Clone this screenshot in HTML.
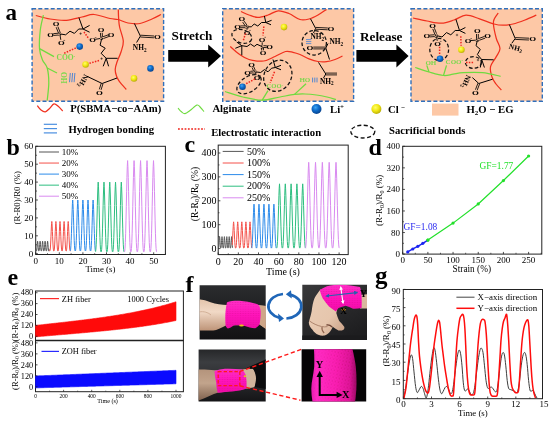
<!DOCTYPE html>
<html><head><meta charset="utf-8"><title>figure</title><style>
html,body{margin:0;padding:0;background:#fff}
svg{display:block}
text{font-family:"Liberation Serif",serif;white-space:pre}
</style></head><body>
<svg width="550" height="422" viewBox="0 0 550 422">
<rect width="550" height="422" fill="#fff"/>
<text x="5.60" y="19.80" font-size="23" font-weight="bold" fill="#000" text-anchor="start" >a</text>
<rect x="32.1" y="8.8" width="131.5" height="92.4" fill="#FDC8A6" stroke="#2F6FBC" stroke-width="1.4" stroke-dasharray="4,2.2"/>
<rect x="222.7" y="8.8" width="130.9" height="92.4" fill="#FDC8A6" stroke="#2F6FBC" stroke-width="1.4" stroke-dasharray="4,2.2"/>
<rect x="411" y="8.8" width="131.3" height="92.4" fill="#FDC8A6" stroke="#2F6FBC" stroke-width="1.4" stroke-dasharray="4,2.2"/>
<path d="M168.2,50 H208.2 V44.5 L221,56 L208.2,67.6 V61.8 H168.2Z" fill="#000"/>
<path d="M356.4,50 H396.4 V44.5 L408.6,56 L396.4,67.6 V61.8 H356.4Z" fill="#000"/>
<text x="171.60" y="40.40" font-size="13.2" font-weight="bold" fill="#000" text-anchor="start" >Stretch</text>
<text x="360.00" y="41.40" font-size="13.2" font-weight="bold" fill="#000" text-anchor="start" >Release</text>
<defs>
<radialGradient id="bl" cx="0.4" cy="0.35" r="0.7"><stop offset="0" stop-color="#3FA6F5"/><stop offset="0.45" stop-color="#0E6CCB"/><stop offset="1" stop-color="#073E86"/></radialGradient>
<radialGradient id="yl" cx="0.4" cy="0.35" r="0.7"><stop offset="0" stop-color="#FFFF6A"/><stop offset="0.5" stop-color="#F1E713"/><stop offset="1" stop-color="#B2A608"/></radialGradient>
</defs>
<path d="M35.80,15.50C38.17,16.08 44.90,18.20 50.00,19.00C55.10,19.80 61.07,20.63 66.40,20.30C71.73,19.97 77.40,17.97 82.00,17.00C86.60,16.03 89.33,14.25 94.00,14.50C98.67,14.75 106.00,17.67 110.00,18.50C114.00,19.33 115.00,18.75 118.00,19.50C121.00,20.25 124.33,22.33 128.00,23.00C131.67,23.67 136.00,24.17 140.00,23.50C144.00,22.83 148.50,20.50 152.00,19.00C155.50,17.50 159.50,15.25 161.00,14.50" stroke="#F0301E" stroke-width="1.25" fill="none" />
<path d="M118.30,9.50C118.35,10.92 118.38,15.08 118.60,18.00C118.82,20.92 118.82,23.13 119.60,27.00C120.38,30.87 123.07,37.03 123.30,41.20C123.53,45.37 122.05,48.53 121.00,52.00C119.95,55.47 117.97,59.10 117.00,62.00C116.03,64.90 115.28,67.07 115.20,69.40C115.12,71.73 115.82,74.00 116.50,76.00C117.18,78.00 117.67,79.15 119.30,81.40C120.93,83.65 125.13,88.15 126.30,89.50" stroke="#F0301E" stroke-width="1.25" fill="none" />
<path d="M43.40,15.20C42.88,17.67 40.95,24.43 40.30,30.00C39.65,35.57 39.13,43.60 39.50,48.60C39.87,53.60 41.22,56.77 42.50,60.00C43.78,63.23 46.15,64.22 47.20,68.00C48.25,71.78 48.80,77.28 48.80,82.70C48.80,88.12 47.47,97.53 47.20,100.50" stroke="#6FDB3F" stroke-width="1.25" fill="none" />
<line x1="39.50" y1="48.60" x2="54.00" y2="56.60" stroke="#6FDB3F" stroke-width="1.25" />
<line x1="47.20" y1="68.00" x2="57.00" y2="73.00" stroke="#6FDB3F" stroke-width="1.25" />
<text x="56.5" y="60.2" font-size="7.5" font-weight="bold" fill="#7AD84C" transform="rotate(0 56.5 60.2)">COO<tspan font-size="5.2" dy="-2.2">-</tspan></text>
<text x="61" y="72" font-size="7.5" font-weight="bold" fill="#7AD84C" transform="rotate(90 61 72)">OH</text>
<text x="59.80" y="36.10" font-size="6.4" font-weight="bold" fill="#000" text-anchor="middle" >S</text>
<line x1="60.05" y1="32.18" x2="57.86" y2="26.58" stroke="#000" stroke-width="0.85" />
<line x1="58.38" y1="32.84" x2="56.18" y2="27.24" stroke="#000" stroke-width="0.85" />
<text transform="translate(56.00,24.30) scale(1.16,0.88)" x="0" y="2.48" font-size="7.4" font-weight="bold" text-anchor="middle">O</text>
<line x1="58.13" y1="33.24" x2="53.31" y2="33.66" stroke="#000" stroke-width="0.85" />
<line x1="58.28" y1="35.04" x2="53.47" y2="35.45" stroke="#000" stroke-width="0.85" />
<text transform="translate(50.60,34.80) scale(1.16,0.88)" x="0" y="2.48" font-size="7.4" font-weight="bold" text-anchor="middle">O</text>
<line x1="60.07" y1="35.58" x2="60.82" y2="39.84" stroke="#000" stroke-width="0.9" />
<text transform="translate(61.30,42.60) scale(1.16,0.88)" x="0" y="2.48" font-size="7.4" font-weight="bold" text-anchor="middle">O</text>
<line x1="63.50" y1="40.40" x2="65.10" y2="40.40" stroke="#000" stroke-width="0.5" />
<path d="M60.60,34.00L65.60,34.80L70.00,31.20L74.40,33.40L78.70,29.00L83.00,29.00" stroke="#000" stroke-width="1.0" fill="none" stroke-linejoin="round"/>
<path d="M78.90,17.60L83.00,29.00" stroke="#000" stroke-width="1.0" fill="none" stroke-linejoin="round"/>
<path d="M83.00,29.00L89.60,25.40" stroke="#000" stroke-width="1.0" fill="none" stroke-linejoin="round"/>
<path d="M83.00,29.00L89.60,32.20" stroke="#000" stroke-width="1.0" fill="none" stroke-linejoin="round"/>
<line x1="79.40" y1="33.60" x2="81.80" y2="33.60" stroke="#000" stroke-width="0.5" />
<line x1="80.60" y1="32.40" x2="80.60" y2="34.80" stroke="#000" stroke-width="0.5" />
<line x1="84.00" y1="32.00" x2="89.00" y2="39.00" stroke="#F0231A" stroke-width="1.5" stroke-dasharray="1.5,1.3"/>
<text x="101.70" y="40.30" font-size="6.4" font-weight="bold" fill="#000" text-anchor="middle" >S</text>
<line x1="102.48" y1="36.54" x2="102.20" y2="32.73" stroke="#000" stroke-width="0.85" />
<line x1="100.69" y1="36.67" x2="100.41" y2="32.86" stroke="#000" stroke-width="0.85" />
<text transform="translate(101.10,30.00) scale(1.16,0.88)" x="0" y="2.48" font-size="7.4" font-weight="bold" text-anchor="middle">O</text>
<line x1="103.51" y1="38.49" x2="108.88" y2="36.51" stroke="#000" stroke-width="0.85" />
<line x1="102.89" y1="36.80" x2="108.26" y2="34.82" stroke="#000" stroke-width="0.85" />
<text transform="translate(111.20,34.70) scale(1.16,0.88)" x="0" y="2.48" font-size="7.4" font-weight="bold" text-anchor="middle">O</text>
<line x1="100.12" y1="38.48" x2="95.36" y2="39.32" stroke="#000" stroke-width="0.9" />
<text transform="translate(92.60,39.80) scale(1.16,0.88)" x="0" y="2.48" font-size="7.4" font-weight="bold" text-anchor="middle">O</text>
<line x1="94.80" y1="37.60" x2="96.40" y2="37.60" stroke="#000" stroke-width="0.5" />
<path d="M101.60,39.00L100.10,45.20L105.20,48.20L101.10,53.30L106.20,58.30" stroke="#000" stroke-width="1.0" fill="none" stroke-linejoin="round"/>
<path d="M106.20,58.30L117.60,58.30" stroke="#000" stroke-width="1.0" fill="none" stroke-linejoin="round"/>
<path d="M106.20,58.30L103.20,66.30" stroke="#000" stroke-width="1.0" fill="none" stroke-linejoin="round"/>
<path d="M106.20,58.30L108.60,66.30" stroke="#000" stroke-width="1.0" fill="none" stroke-linejoin="round"/>
<line x1="100.40" y1="58.60" x2="102.80" y2="58.60" stroke="#000" stroke-width="0.5" />
<line x1="101.60" y1="57.40" x2="101.60" y2="59.80" stroke="#000" stroke-width="0.5" />
<circle cx="79.7" cy="46.6" r="3.3" fill="url(#bl)"/>
<line x1="64.20" y1="53.20" x2="75.80" y2="48.00" stroke="#F0231A" stroke-width="1.5" stroke-dasharray="1.5,1.3"/>
<circle cx="85.6" cy="64.5" r="3.3" fill="url(#yl)"/>
<line x1="89.50" y1="63.30" x2="100.20" y2="60.20" stroke="#F0231A" stroke-width="1.5" stroke-dasharray="1.5,1.3"/>
<circle cx="150.5" cy="68.4" r="3.3" fill="url(#bl)"/>
<circle cx="134" cy="78.4" r="3.3" fill="url(#yl)"/>
<path d="M134.40,23.50L140.40,36.10" stroke="#000" stroke-width="1.0" fill="none" stroke-linejoin="round"/>
<line x1="140.35" y1="37.00" x2="153.95" y2="37.80" stroke="#000" stroke-width="0.85" />
<line x1="140.45" y1="35.20" x2="154.05" y2="36.00" stroke="#000" stroke-width="0.85" />
<text transform="translate(157.50,37.10) scale(1.16,0.88)" x="0" y="2.55" font-size="7.6" font-weight="bold" text-anchor="middle">O</text>
<path d="M140.40,36.10L136.60,42.50" stroke="#000" stroke-width="1.0" fill="none" stroke-linejoin="round"/>
<text x="132.8" y="50.4" font-size="7.4" font-weight="bold" transform="rotate(0 132.8 50.4)">NH<tspan font-size="5.2" dy="1.3">2</tspan></text>
<path d="M117.00,78.00L102.10,83.50L86.80,76.20" stroke="#000" stroke-width="1.0" fill="none" stroke-linejoin="round"/>
<line x1="101.24" y1="83.23" x2="99.34" y2="89.33" stroke="#000" stroke-width="0.85" />
<line x1="102.96" y1="83.77" x2="101.06" y2="89.87" stroke="#000" stroke-width="0.85" />
<text transform="translate(99.50,92.60) scale(1.16,0.88)" x="0" y="2.55" font-size="7.6" font-weight="bold" text-anchor="middle">O</text>
<text x="84.2" y="73.8" font-size="7.4" font-weight="bold" transform="rotate(118 84.2 73.8)">NH<tspan font-size="5.2" dy="1.3">2</tspan></text>
<line x1="70.30" y1="73.00" x2="69.50" y2="82.20" stroke="#3F7FD6" stroke-width="0.9" />
<line x1="72.60" y1="73.00" x2="71.80" y2="82.20" stroke="#3F7FD6" stroke-width="0.9" />
<line x1="74.90" y1="73.00" x2="74.10" y2="82.20" stroke="#3F7FD6" stroke-width="0.9" />
<path d="M241.00,11.50C242.33,12.08 246.20,14.02 249.00,15.00C251.80,15.98 254.63,17.40 257.80,17.40C260.97,17.40 264.60,16.10 268.00,15.00C271.40,13.90 274.70,11.05 278.20,10.80C281.70,10.55 285.37,12.05 289.00,13.50C292.63,14.95 296.67,18.58 300.00,19.50C303.33,20.42 306.00,19.75 309.00,19.00C312.00,18.25 315.08,16.60 318.00,15.00C320.92,13.40 325.08,10.33 326.50,9.40" stroke="#F0301E" stroke-width="1.25" fill="none" />
<path d="M230.20,46.50C231.67,47.75 235.87,51.83 239.00,54.00C242.13,56.17 244.90,58.33 249.00,59.50C253.10,60.67 259.27,61.50 263.60,61.00C267.93,60.50 271.35,58.08 275.00,56.50C278.65,54.92 282.50,52.20 285.50,51.50C288.50,50.80 290.58,51.80 293.00,52.30C295.42,52.80 297.33,53.42 300.00,54.50C302.67,55.58 306.00,57.63 309.00,58.80C312.00,59.97 315.08,61.02 318.00,61.50C320.92,61.98 323.67,62.03 326.50,61.70C329.33,61.37 332.33,60.45 335.00,59.50C337.67,58.55 341.25,56.58 342.50,56.00" stroke="#F0301E" stroke-width="1.25" fill="none" />
<path d="M225.00,91.50C228.00,92.42 236.80,95.55 243.00,97.00C249.20,98.45 256.03,100.20 262.20,100.20C268.37,100.20 274.62,97.97 280.00,97.00C285.38,96.03 290.33,94.90 294.50,94.40C298.67,93.90 301.35,93.90 305.00,94.00C308.65,94.10 312.73,94.50 316.40,95.00C320.07,95.50 323.73,96.25 327.00,97.00C330.27,97.75 334.50,99.08 336.00,99.50" stroke="#6FDB3F" stroke-width="1.25" fill="none" />
<line x1="262.20" y1="100.20" x2="268.00" y2="90.70" stroke="#6FDB3F" stroke-width="1.25" />
<line x1="294.50" y1="94.40" x2="306.00" y2="83.70" stroke="#6FDB3F" stroke-width="1.25" />
<text x="247.00" y="28.90" font-size="6.4" font-weight="bold" fill="#000" text-anchor="middle" >S</text>
<line x1="246.83" y1="24.97" x2="244.14" y2="21.09" stroke="#000" stroke-width="0.85" />
<line x1="245.35" y1="26.00" x2="242.66" y2="22.11" stroke="#000" stroke-width="0.85" />
<text transform="translate(241.80,19.30) scale(1.16,0.88)" x="0" y="2.48" font-size="7.4" font-weight="bold" text-anchor="middle">O</text>
<line x1="245.40" y1="25.90" x2="240.30" y2="25.90" stroke="#000" stroke-width="0.85" />
<line x1="245.40" y1="27.70" x2="240.30" y2="27.70" stroke="#000" stroke-width="0.85" />
<text transform="translate(237.50,26.80) scale(1.16,0.88)" x="0" y="2.48" font-size="7.4" font-weight="bold" text-anchor="middle">O</text>
<line x1="247.00" y1="28.40" x2="247.00" y2="29.80" stroke="#000" stroke-width="0.9" />
<text transform="translate(247.00,32.60) scale(1.16,0.88)" x="0" y="2.48" font-size="7.4" font-weight="bold" text-anchor="middle">O</text>
<line x1="249.20" y1="30.40" x2="250.80" y2="30.40" stroke="#000" stroke-width="0.5" />
<path d="M247.80,26.80L251.30,26.80L254.20,24.00L257.80,26.00L261.50,22.50L265.80,22.50" stroke="#000" stroke-width="1.0" fill="none" stroke-linejoin="round"/>
<path d="M264.40,16.00L265.80,22.50" stroke="#000" stroke-width="1.0" fill="none" stroke-linejoin="round"/>
<path d="M265.80,22.50L271.60,20.30" stroke="#000" stroke-width="1.0" fill="none" stroke-linejoin="round"/>
<path d="M265.80,22.50L271.00,24.80" stroke="#000" stroke-width="1.0" fill="none" stroke-linejoin="round"/>
<line x1="263.80" y1="26.50" x2="263.00" y2="35.50" stroke="#F0231A" stroke-width="1.5" stroke-dasharray="1.5,1.3"/>
<text x="262.20" y="48.60" font-size="6.4" font-weight="bold" fill="#000" text-anchor="middle" >S</text>
<line x1="262.20" y1="44.90" x2="262.20" y2="42.30" stroke="#000" stroke-width="0.9" />
<text transform="translate(262.20,39.50) scale(1.16,0.88)" x="0" y="2.48" font-size="7.4" font-weight="bold" text-anchor="middle">O</text>
<line x1="264.40" y1="37.30" x2="266.00" y2="37.30" stroke="#000" stroke-width="0.5" />
<line x1="263.75" y1="47.49" x2="266.76" y2="47.65" stroke="#000" stroke-width="0.85" />
<line x1="263.85" y1="45.69" x2="266.85" y2="45.85" stroke="#000" stroke-width="0.85" />
<text transform="translate(269.60,46.90) scale(1.16,0.88)" x="0" y="2.48" font-size="7.4" font-weight="bold" text-anchor="middle">O</text>
<line x1="261.50" y1="48.20" x2="261.77" y2="50.53" stroke="#000" stroke-width="0.85" />
<line x1="263.28" y1="47.98" x2="263.56" y2="50.31" stroke="#000" stroke-width="0.85" />
<text transform="translate(263.00,53.20) scale(1.16,0.88)" x="0" y="2.48" font-size="7.4" font-weight="bold" text-anchor="middle">O</text>
<path d="M261.40,46.30L257.00,44.30L254.20,46.50L250.50,44.00L247.00,46.50L241.80,45.70" stroke="#000" stroke-width="1.0" fill="none" stroke-linejoin="round"/>
<path d="M236.70,42.00L241.80,45.70" stroke="#000" stroke-width="1.0" fill="none" stroke-linejoin="round"/>
<path d="M241.80,45.70L235.30,48.30" stroke="#000" stroke-width="1.0" fill="none" stroke-linejoin="round"/>
<path d="M241.80,45.70L241.80,55.20" stroke="#000" stroke-width="1.0" fill="none" stroke-linejoin="round"/>
<ellipse cx="241.8" cy="36.3" rx="10.2" ry="6.6" transform="rotate(18 241.8 36.3)" fill="none" stroke="#111" stroke-width="1.25" stroke-dasharray="3.6,2.2"/>
<line x1="245.50" y1="33.40" x2="243.30" y2="40.60" stroke="#F0231A" stroke-width="1.5" stroke-dasharray="1.5,1.3"/>
<circle cx="284" cy="27.1" r="3.3" fill="url(#yl)"/>
<path d="M310.50,18.80L315.60,28.30" stroke="#000" stroke-width="1.0" fill="none" stroke-linejoin="round"/>
<line x1="315.56" y1="29.20" x2="327.76" y2="29.80" stroke="#000" stroke-width="0.85" />
<line x1="315.64" y1="27.40" x2="327.84" y2="28.00" stroke="#000" stroke-width="0.85" />
<text transform="translate(331.00,29.00) scale(1.16,0.88)" x="0" y="2.55" font-size="7.6" font-weight="bold" text-anchor="middle">O</text>
<path d="M315.60,28.30L313.50,33.00" stroke="#000" stroke-width="1.0" fill="none" stroke-linejoin="round"/>
<text x="310.5" y="39.2" font-size="7.4" font-weight="bold" transform="rotate(0 310.5 39.2)">NH<tspan font-size="5.2" dy="1.3">2</tspan></text>
<text x="329.5" y="44.3" font-size="7.4" font-weight="bold" transform="rotate(0 329.5 44.3)">NH<tspan font-size="5.2" dy="1.3">2</tspan></text>
<path d="M329.50,59.50L325.80,48.00L328.00,43.50" stroke="#000" stroke-width="1.0" fill="none" stroke-linejoin="round"/>
<line x1="325.80" y1="47.10" x2="313.20" y2="47.10" stroke="#000" stroke-width="0.85" />
<line x1="325.80" y1="48.90" x2="313.20" y2="48.90" stroke="#000" stroke-width="0.85" />
<text transform="translate(309.80,48.00) scale(1.16,0.88)" x="0" y="2.55" font-size="7.6" font-weight="bold" text-anchor="middle">O</text>
<ellipse cx="314.2" cy="42.8" rx="12.2" ry="12.2" transform="rotate(0 314.2 42.8)" fill="none" stroke="#111" stroke-width="1.25" stroke-dasharray="3.6,2.2"/>
<line x1="306.00" y1="39.60" x2="311.30" y2="39.60" stroke="#3F7FD6" stroke-width="0.8" />
<line x1="306.00" y1="41.60" x2="311.30" y2="41.60" stroke="#3F7FD6" stroke-width="0.8" />
<line x1="306.00" y1="43.60" x2="311.30" y2="43.60" stroke="#3F7FD6" stroke-width="0.8" />
<text x="255.00" y="73.90" font-size="6.4" font-weight="bold" fill="#000" text-anchor="middle" >S</text>
<line x1="255.16" y1="69.97" x2="253.67" y2="66.68" stroke="#000" stroke-width="0.85" />
<line x1="253.52" y1="70.71" x2="252.03" y2="67.42" stroke="#000" stroke-width="0.85" />
<text transform="translate(251.70,64.50) scale(1.16,0.88)" x="0" y="2.48" font-size="7.4" font-weight="bold" text-anchor="middle">O</text>
<line x1="253.32" y1="71.05" x2="250.30" y2="71.34" stroke="#000" stroke-width="0.85" />
<line x1="253.49" y1="72.85" x2="250.47" y2="73.13" stroke="#000" stroke-width="0.85" />
<text transform="translate(247.60,72.50) scale(1.16,0.88)" x="0" y="2.48" font-size="7.4" font-weight="bold" text-anchor="middle">O</text>
<line x1="255.51" y1="73.32" x2="256.11" y2="75.14" stroke="#000" stroke-width="0.9" />
<text transform="translate(257.00,77.80) scale(1.16,0.88)" x="0" y="2.48" font-size="7.4" font-weight="bold" text-anchor="middle">O</text>
<line x1="259.20" y1="75.60" x2="260.80" y2="75.60" stroke="#000" stroke-width="0.5" />
<path d="M255.80,71.90L260.70,72.50L264.40,69.60L268.00,71.80L271.60,68.20L275.30,67.50" stroke="#000" stroke-width="1.0" fill="none" stroke-linejoin="round"/>
<path d="M273.00,59.50L275.30,67.50" stroke="#000" stroke-width="1.0" fill="none" stroke-linejoin="round"/>
<path d="M275.30,67.50L281.00,65.30" stroke="#000" stroke-width="1.0" fill="none" stroke-linejoin="round"/>
<path d="M275.30,67.50L281.00,69.80" stroke="#000" stroke-width="1.0" fill="none" stroke-linejoin="round"/>
<ellipse cx="249" cy="84.2" rx="13.5" ry="7.6" transform="rotate(-32 249 84.2)" fill="none" stroke="#111" stroke-width="1.25" stroke-dasharray="3.6,2.2"/>
<circle cx="242.5" cy="86.7" r="3.3" fill="url(#bl)"/>
<line x1="246.20" y1="83.70" x2="255.60" y2="78.60" stroke="#F0231A" stroke-width="1.5" stroke-dasharray="1.5,1.3"/>
<ellipse cx="277.8" cy="75.8" rx="13.5" ry="16.2" transform="rotate(28 277.8 75.8)" fill="none" stroke="#111" stroke-width="1.25" stroke-dasharray="3.6,2.2"/>
<line x1="274.50" y1="71.80" x2="270.20" y2="82.70" stroke="#F0231A" stroke-width="1.5" stroke-dasharray="1.5,1.3"/>
<text x="266.6" y="88.2" font-size="6.6" font-weight="bold" fill="#7AD84C" transform="rotate(0 266.6 88.2)">COO<tspan font-size="4.6" dy="-2.2">-</tspan></text>
<path d="M318.50,62.40L325.80,74.00" stroke="#000" stroke-width="1.0" fill="none" stroke-linejoin="round"/>
<line x1="325.80" y1="74.90" x2="337.00" y2="74.90" stroke="#000" stroke-width="0.85" />
<line x1="325.80" y1="73.10" x2="337.00" y2="73.10" stroke="#000" stroke-width="0.85" />
<path d="M325.80,74.00L323.50,78.00" stroke="#000" stroke-width="1.0" fill="none" stroke-linejoin="round"/>
<text x="320" y="83.8" font-size="7.4" font-weight="bold" transform="rotate(0 320 83.8)">NH<tspan font-size="5.2" dy="1.3">2</tspan></text>
<text x="299.4" y="82.4" font-size="7" font-weight="bold" fill="#7AD84C" transform="rotate(0 299.4 82.4)">HO</text>
<line x1="312.60" y1="77.60" x2="312.60" y2="82.40" stroke="#3F7FD6" stroke-width="0.9" />
<line x1="314.80" y1="77.60" x2="314.80" y2="82.40" stroke="#3F7FD6" stroke-width="0.9" />
<line x1="317.00" y1="77.60" x2="317.00" y2="82.40" stroke="#3F7FD6" stroke-width="0.9" />
<path d="M413.00,18.00C415.33,18.50 422.27,20.13 427.00,21.00C431.73,21.87 436.90,23.37 441.40,23.20C445.90,23.03 449.90,21.33 454.00,20.00C458.10,18.67 461.75,15.40 466.00,15.20C470.25,15.00 474.83,17.33 479.50,18.80C484.17,20.27 490.08,22.93 494.00,24.00C497.92,25.07 499.83,25.20 503.00,25.20C506.17,25.20 509.33,24.87 513.00,24.00C516.67,23.13 521.12,21.47 525.00,20.00C528.88,18.53 534.42,16.00 536.30,15.20" stroke="#F0301E" stroke-width="1.25" fill="none" />
<path d="M498.20,13.00C497.58,13.92 495.30,16.67 494.50,18.50C493.70,20.33 493.10,20.67 493.40,24.00C493.70,27.33 495.20,34.40 496.30,38.50C497.40,42.60 500.00,45.58 500.00,48.60C500.00,51.62 497.88,53.57 496.30,56.60C494.72,59.63 491.22,63.40 490.50,66.80C489.78,70.20 491.08,74.13 492.00,77.00C492.92,79.87 494.43,81.83 496.00,84.00C497.57,86.17 500.50,89.00 501.40,90.00" stroke="#F0301E" stroke-width="1.25" fill="none" />
<path d="M415.20,67.50C417.50,68.25 424.28,70.67 429.00,72.00C433.72,73.33 439.50,75.13 443.50,75.50C447.50,75.87 449.72,74.68 453.00,74.20C456.28,73.72 458.28,72.87 463.20,72.60C468.12,72.33 476.27,71.98 482.50,72.60C488.73,73.22 497.58,75.68 500.60,76.30" stroke="#6FDB3F" stroke-width="1.25" fill="none" />
<line x1="429.00" y1="72.00" x2="426.80" y2="65.40" stroke="#6FDB3F" stroke-width="1.25" />
<line x1="443.50" y1="75.50" x2="446.50" y2="65.40" stroke="#6FDB3F" stroke-width="1.25" />
<text x="425.4" y="64.5" font-size="7" font-weight="bold" fill="#7AD84C" transform="rotate(0 425.4 64.5)">OH</text>
<text x="445.6" y="64.3" font-size="7" font-weight="bold" fill="#7AD84C" transform="rotate(0 445.6 64.3)">COO<tspan font-size="4.9" dy="-2.2">-</tspan></text>
<text x="436.30" y="37.60" font-size="6.4" font-weight="bold" fill="#000" text-anchor="middle" >S</text>
<line x1="436.56" y1="33.68" x2="434.45" y2="28.28" stroke="#000" stroke-width="0.85" />
<line x1="434.88" y1="34.34" x2="432.78" y2="28.94" stroke="#000" stroke-width="0.85" />
<text transform="translate(432.60,26.00) scale(1.16,0.88)" x="0" y="2.48" font-size="7.4" font-weight="bold" text-anchor="middle">O</text>
<line x1="434.63" y1="34.74" x2="429.51" y2="35.17" stroke="#000" stroke-width="0.85" />
<line x1="434.78" y1="36.53" x2="429.67" y2="36.96" stroke="#000" stroke-width="0.85" />
<text transform="translate(426.80,36.30) scale(1.16,0.88)" x="0" y="2.48" font-size="7.4" font-weight="bold" text-anchor="middle">O</text>
<line x1="436.57" y1="37.08" x2="437.22" y2="40.84" stroke="#000" stroke-width="0.9" />
<text transform="translate(437.70,43.60) scale(1.16,0.88)" x="0" y="2.48" font-size="7.4" font-weight="bold" text-anchor="middle">O</text>
<line x1="439.90" y1="41.40" x2="441.50" y2="41.40" stroke="#000" stroke-width="0.5" />
<path d="M437.10,35.70L442.00,37.00L446.50,32.60L450.80,34.80L455.20,30.50L459.50,30.50" stroke="#000" stroke-width="1.0" fill="none" stroke-linejoin="round"/>
<path d="M456.00,19.50L459.50,30.50" stroke="#000" stroke-width="1.0" fill="none" stroke-linejoin="round"/>
<path d="M459.50,30.50L465.40,27.50" stroke="#000" stroke-width="1.0" fill="none" stroke-linejoin="round"/>
<path d="M459.50,30.50L465.40,33.40" stroke="#000" stroke-width="1.0" fill="none" stroke-linejoin="round"/>
<line x1="455.80" y1="35.00" x2="458.20" y2="35.00" stroke="#000" stroke-width="0.5" />
<line x1="457.00" y1="33.80" x2="457.00" y2="36.20" stroke="#000" stroke-width="0.5" />
<line x1="460.80" y1="36.30" x2="461.10" y2="45.70" stroke="#F0231A" stroke-width="1.5" stroke-dasharray="1.5,1.3"/>
<circle cx="461.4" cy="49.8" r="3.3" fill="url(#yl)"/>
<ellipse cx="439.2" cy="49.4" rx="9.4" ry="11" transform="rotate(0 439.2 49.4)" fill="none" stroke="#111" stroke-width="1.25" stroke-dasharray="3.6,2.2"/>
<line x1="439.60" y1="46.80" x2="439.60" y2="55.50" stroke="#F0231A" stroke-width="1.5" stroke-dasharray="1.5,1.3"/>
<circle cx="440" cy="58.8" r="3.3" fill="url(#bl)"/>
<text x="477.40" y="42.10" font-size="6.4" font-weight="bold" fill="#000" text-anchor="middle" >S</text>
<line x1="478.30" y1="38.40" x2="478.30" y2="34.00" stroke="#000" stroke-width="0.85" />
<line x1="476.50" y1="38.40" x2="476.50" y2="34.00" stroke="#000" stroke-width="0.85" />
<text transform="translate(477.40,31.20) scale(1.16,0.88)" x="0" y="2.48" font-size="7.4" font-weight="bold" text-anchor="middle">O</text>
<line x1="479.21" y1="40.29" x2="485.18" y2="38.11" stroke="#000" stroke-width="0.85" />
<line x1="478.59" y1="38.60" x2="484.56" y2="36.42" stroke="#000" stroke-width="0.85" />
<text transform="translate(487.50,36.30) scale(1.16,0.88)" x="0" y="2.48" font-size="7.4" font-weight="bold" text-anchor="middle">O</text>
<line x1="475.81" y1="40.14" x2="470.99" y2="40.56" stroke="#000" stroke-width="0.9" />
<text transform="translate(468.20,40.80) scale(1.16,0.88)" x="0" y="2.48" font-size="7.4" font-weight="bold" text-anchor="middle">O</text>
<line x1="470.40" y1="38.60" x2="472.00" y2="38.60" stroke="#000" stroke-width="0.5" />
<path d="M477.30,40.80L476.00,45.70L480.30,49.40L477.40,54.50L481.70,59.50" stroke="#000" stroke-width="1.0" fill="none" stroke-linejoin="round"/>
<path d="M481.70,59.50L493.60,59.80" stroke="#000" stroke-width="1.0" fill="none" stroke-linejoin="round"/>
<path d="M481.70,59.50L480.30,67.50" stroke="#000" stroke-width="1.0" fill="none" stroke-linejoin="round"/>
<path d="M481.70,59.50L484.40,67.50" stroke="#000" stroke-width="1.0" fill="none" stroke-linejoin="round"/>
<line x1="476.80" y1="60.00" x2="479.20" y2="60.00" stroke="#000" stroke-width="0.5" />
<line x1="478.00" y1="58.80" x2="478.00" y2="61.20" stroke="#000" stroke-width="0.5" />
<ellipse cx="473.4" cy="62.5" rx="8" ry="5.8" transform="rotate(0 473.4 62.5)" fill="none" stroke="#111" stroke-width="1.25" stroke-dasharray="3.6,2.2"/>
<line x1="466.00" y1="62.50" x2="473.40" y2="62.50" stroke="#F0231A" stroke-width="1.5" stroke-dasharray="1.5,1.3"/>
<path d="M509.40,24.60L515.20,38.50" stroke="#000" stroke-width="1.0" fill="none" stroke-linejoin="round"/>
<line x1="515.16" y1="39.40" x2="528.96" y2="40.00" stroke="#000" stroke-width="0.85" />
<line x1="515.24" y1="37.60" x2="529.04" y2="38.20" stroke="#000" stroke-width="0.85" />
<text transform="translate(532.60,39.20) scale(1.16,0.88)" x="0" y="2.55" font-size="7.6" font-weight="bold" text-anchor="middle">O</text>
<path d="M515.20,38.50L511.80,43.30" stroke="#000" stroke-width="1.0" fill="none" stroke-linejoin="round"/>
<text x="508.6" y="48.6" font-size="7.4" font-weight="bold" transform="rotate(14 508.6 48.6)">NH<tspan font-size="5.2" dy="1.3">2</tspan></text>
<path d="M492.60,79.20L478.80,83.50L472.40,77.60" stroke="#000" stroke-width="1.0" fill="none" stroke-linejoin="round"/>
<line x1="477.96" y1="83.18" x2="475.46" y2="89.68" stroke="#000" stroke-width="0.85" />
<line x1="479.64" y1="83.82" x2="477.14" y2="90.32" stroke="#000" stroke-width="0.85" />
<text transform="translate(475.40,93.20) scale(1.16,0.88)" x="0" y="2.55" font-size="7.6" font-weight="bold" text-anchor="middle">O</text>
<text x="466.6" y="74.4" font-size="7.4" font-weight="bold" transform="rotate(113 466.6 74.4)">NH<tspan font-size="5.2" dy="1.3">2</tspan></text>
<path d="M37.30,105.60C37.92,106.33 39.67,108.97 41.00,110.00C42.33,111.03 43.88,112.05 45.30,111.80C46.72,111.55 48.05,109.83 49.50,108.50C50.95,107.17 52.50,104.13 54.00,103.80C55.50,103.47 57.05,105.30 58.50,106.50C59.95,107.70 62.00,110.25 62.70,111.00" stroke="#F0301E" stroke-width="1.25" fill="none" />
<text x="70.20" y="112.40" font-size="10.7" font-weight="bold" fill="#000" text-anchor="start" >P(SBMA−co−AAm)</text>
<path d="M178.00,108.00C178.58,108.63 180.33,110.87 181.50,111.80C182.67,112.73 183.58,113.82 185.00,113.60C186.42,113.38 188.00,111.93 190.00,110.50C192.00,109.07 195.25,105.50 197.00,105.00C198.75,104.50 199.33,106.40 200.50,107.50C201.67,108.60 203.42,110.92 204.00,111.60" stroke="#6FDB3F" stroke-width="1.1" fill="none" />
<text x="212.40" y="112.00" font-size="10.7" font-weight="bold" fill="#000" text-anchor="start" >Alginate</text>
<circle cx="316.5" cy="109" r="5" fill="url(#bl)"/>
<text x="330" y="112.6" font-size="10.7" font-weight="bold">Li<tspan font-size="7" dy="-3.5">+</tspan></text>
<circle cx="376.4" cy="109" r="5" fill="url(#yl)"/>
<text x="388" y="112.8" font-size="10.7" font-weight="bold">Cl <tspan font-size="7" dy="-3">−</tspan></text>
<rect x="432" y="103.6" width="26.5" height="12" fill="#FDC8A6"/>
<text x="466.5" y="113.2" font-size="10.7" font-weight="bold">H<tspan font-size="7" dy="2">2</tspan><tspan dy="-2">O − EG</tspan></text>
<line x1="43.80" y1="124.30" x2="57.00" y2="124.30" stroke="#4A8FE0" stroke-width="1.2" />
<line x1="43.80" y1="128.60" x2="57.00" y2="128.60" stroke="#4A8FE0" stroke-width="1.2" />
<line x1="43.80" y1="132.90" x2="57.00" y2="132.90" stroke="#4A8FE0" stroke-width="1.2" />
<text x="68.40" y="133.30" font-size="10.7" font-weight="bold" fill="#000" text-anchor="start" >Hydrogen bonding</text>
<line x1="178.00" y1="129.00" x2="205.00" y2="129.00" stroke="#F0231A" stroke-width="1.4" stroke-dasharray="1.8,1.5"/>
<text x="211.20" y="135.60" font-size="10.7" font-weight="bold" fill="#000" text-anchor="start" >Electrostatic interaction</text>
<ellipse cx="362.8" cy="131.6" rx="12" ry="6.4" fill="none" stroke="#111" stroke-width="1.35" stroke-dasharray="4,2.4"/>
<text x="389.00" y="134.20" font-size="10.7" font-weight="bold" fill="#000" text-anchor="start" >Sacrificial bonds</text>
<text x="6.60" y="154.60" font-size="24" font-weight="bold" fill="#000" text-anchor="start" >b</text>
<rect x="35.7" y="146.3" width="129.70" height="108.20" fill="#fff" stroke="#222" stroke-width="1.0"/>
<path d="M35.90,249.45L35.98,250.01L36.10,250.65L36.23,250.95L36.35,251.01L36.48,250.95L36.60,250.65L36.73,250.01L36.85,249.00L36.98,247.66L37.10,246.10L37.23,244.48L37.35,242.99L37.48,241.83L37.60,241.17L37.73,241.83L37.85,242.99L37.98,244.48L38.10,246.10L38.23,247.66L38.35,249.00L38.48,250.01L38.60,250.65L38.73,250.95L38.85,251.01L38.98,250.95L39.10,250.65L39.23,250.01L39.35,249.00L39.48,247.66L39.60,246.10L39.73,244.48L39.85,242.99L39.98,241.83L40.10,241.17L40.23,241.83L40.35,242.99L40.48,244.48L40.60,246.10L40.73,247.66L40.85,249.00L40.98,250.01L41.10,250.65L41.23,250.95L41.35,251.01L41.48,250.95L41.60,250.65L41.73,250.01L41.85,249.00L41.98,247.66L42.10,246.10L42.23,244.48L42.35,242.99L42.48,241.83L42.60,241.17L42.73,241.83L42.85,242.99L42.98,244.48L43.10,246.10L43.23,247.66L43.35,249.00L43.48,250.01L43.60,250.65L43.73,250.95L43.85,251.01L43.98,250.95L44.10,250.65L44.23,250.01L44.35,249.00L44.48,247.66L44.60,246.10L44.73,244.48L44.85,242.99L44.98,241.83L45.10,241.17L45.23,241.83L45.35,242.99L45.48,244.48L45.60,246.10L45.73,247.66L45.85,249.00L45.98,250.01L46.10,250.65L46.23,250.95L46.35,251.01L46.48,250.95L46.60,250.65L46.73,250.01L46.85,249.00L46.98,247.66L47.10,246.10L47.23,244.48L47.35,242.99L47.48,241.83L47.60,241.17L47.73,241.83L47.85,242.99L47.98,244.48L48.10,246.10L48.23,247.66L48.35,249.00L48.48,250.01L48.60,250.65L48.73,250.95L48.85,251.01L48.98,250.95L49.10,250.65L49.23,250.01L49.30,249.45" stroke="#555" stroke-width="1.0" fill="none" stroke-linejoin="round"/>
<path d="M49.60,250.93L49.75,251.01L49.95,250.83L50.16,249.92L50.37,248.00L50.57,244.98L50.77,240.96L50.98,236.27L51.19,231.41L51.39,226.94L51.59,223.47L51.80,221.48L52.00,223.47L52.21,226.94L52.41,231.41L52.62,236.27L52.82,240.96L53.03,244.98L53.23,248.00L53.44,249.92L53.64,250.83L53.85,251.01L54.05,250.83L54.26,249.92L54.46,248.00L54.67,244.98L54.87,240.96L55.08,236.27L55.28,231.41L55.49,226.94L55.69,223.47L55.90,221.48L56.10,223.47L56.31,226.94L56.52,231.41L56.72,236.27L56.92,240.96L57.13,244.98L57.34,248.00L57.54,249.92L57.74,250.83L57.95,251.01L58.16,250.83L58.36,249.92L58.57,248.00L58.77,244.98L58.98,240.96L59.18,236.27L59.39,231.41L59.59,226.94L59.80,223.47L60.00,221.48L60.20,223.47L60.41,226.94L60.62,231.41L60.82,236.27L61.02,240.96L61.23,244.98L61.44,248.00L61.64,249.92L61.84,250.83L62.05,251.01L62.25,250.83L62.46,249.92L62.66,248.00L62.87,244.98L63.07,240.96L63.28,236.27L63.48,231.41L63.69,226.94L63.89,223.47L64.10,221.48L64.30,223.47L64.51,226.94L64.71,231.41L64.92,236.27L65.12,240.96L65.33,244.98L65.53,248.00L65.74,249.92L65.94,250.83L66.15,251.01L66.36,250.83L66.56,249.92L66.77,248.00L66.97,244.98L67.18,240.96L67.38,236.27L67.59,231.41L67.79,226.94L68.00,223.47L68.20,221.48L68.41,223.47L68.61,226.94L68.81,231.41L69.02,236.27L69.23,240.96L69.43,244.98L69.64,248.00L69.84,249.92L70.05,250.83L70.25,251.01L70.30,251.01" stroke="#F4514A" stroke-width="1.0" fill="none" stroke-linejoin="round"/>
<path d="M70.20,251.01L70.41,250.69L70.66,249.13L70.92,245.81L71.17,240.58L71.43,233.64L71.68,225.55L71.94,217.14L72.19,209.43L72.45,203.44L72.70,200.00L72.95,203.44L73.21,209.43L73.47,217.14L73.72,225.55L73.98,233.64L74.23,240.58L74.48,245.81L74.74,249.13L75.00,250.69L75.25,251.01L75.50,250.69L75.76,249.13L76.02,245.81L76.27,240.58L76.53,233.64L76.78,225.55L77.03,217.14L77.29,209.43L77.55,203.44L77.80,200.00L78.05,203.44L78.31,209.43L78.56,217.14L78.82,225.55L79.08,233.64L79.33,240.58L79.58,245.81L79.84,249.13L80.09,250.69L80.35,251.01L80.60,250.69L80.86,249.13L81.11,245.81L81.37,240.58L81.62,233.64L81.88,225.55L82.13,217.14L82.39,209.43L82.64,203.44L82.90,200.00L83.16,203.44L83.41,209.43L83.67,217.14L83.92,225.55L84.18,233.64L84.43,240.58L84.69,245.81L84.94,249.13L85.20,250.69L85.45,251.01L85.70,250.69L85.96,249.13L86.22,245.81L86.47,240.58L86.73,233.64L86.98,225.55L87.23,217.14L87.49,209.43L87.75,203.44L88.00,200.00L88.25,203.44L88.51,209.43L88.77,217.14L89.02,225.55L89.28,233.64L89.53,240.58L89.78,245.81L90.04,249.13L90.30,250.69L90.55,251.01L90.80,250.69L91.06,249.13L91.31,245.81L91.57,240.58L91.83,233.64L92.08,225.55L92.33,217.14L92.59,209.43L92.84,203.44L93.10,200.00L93.35,203.44L93.61,209.43L93.86,217.14L94.12,225.55L94.38,233.64L94.63,240.58L94.88,245.81L95.14,249.13L95.39,250.69L95.60,251.01" stroke="#2C8BEA" stroke-width="1.0" fill="none" stroke-linejoin="round"/>
<path d="M95.30,251.91L95.31,251.91L95.60,251.47L95.89,249.33L96.18,244.79L96.47,237.63L96.76,228.14L97.05,217.06L97.33,205.56L97.62,195.01L97.91,186.80L98.20,182.10L98.49,186.80L98.78,195.01L99.07,205.56L99.36,217.06L99.64,228.14L99.93,237.63L100.22,244.79L100.51,249.33L100.80,251.47L101.09,251.91L101.38,251.47L101.67,249.33L101.95,244.79L102.24,237.63L102.53,228.14L102.82,217.06L103.11,205.56L103.40,195.01L103.69,186.80L103.97,182.10L104.26,186.80L104.55,195.01L104.84,205.56L105.13,217.06L105.42,228.14L105.71,237.63L106.00,244.79L106.28,249.33L106.57,251.47L106.86,251.91L107.15,251.47L107.44,249.33L107.73,244.79L108.02,237.63L108.31,228.14L108.59,217.06L108.88,205.56L109.17,195.01L109.46,186.80L109.75,182.10L110.04,186.80L110.33,195.01L110.62,205.56L110.91,217.06L111.19,228.14L111.48,237.63L111.77,244.79L112.06,249.33L112.35,251.47L112.64,251.91L112.93,251.47L113.22,249.33L113.50,244.79L113.79,237.63L114.08,228.14L114.37,217.06L114.66,205.56L114.95,195.01L115.24,186.80L115.53,182.10L115.81,186.80L116.10,195.01L116.39,205.56L116.68,217.06L116.97,228.14L117.26,237.63L117.55,244.79L117.84,249.33L118.12,251.47L118.41,251.91L118.70,251.47L118.99,249.33L119.28,244.79L119.57,237.63L119.86,228.14L120.14,217.06L120.43,205.56L120.72,195.01L121.01,186.80L121.30,182.10L121.59,186.80L121.88,195.01L122.17,205.56L122.45,217.06L122.74,228.14L123.03,237.63L123.32,244.79L123.61,249.33L123.90,251.47L124.19,251.91L124.20,251.91" stroke="#2DBE80" stroke-width="1.0" fill="none" stroke-linejoin="round"/>
<path d="M124.30,251.90L124.36,251.91L124.69,251.33L125.01,248.54L125.33,242.60L125.66,233.24L125.98,220.82L126.30,206.34L126.63,191.30L126.95,177.50L127.28,166.77L127.60,160.62L127.92,166.77L128.25,177.50L128.57,191.30L128.89,206.34L129.22,220.82L129.54,233.24L129.87,242.60L130.19,248.54L130.51,251.33L130.84,251.91L131.16,251.33L131.49,248.54L131.81,242.60L132.13,233.24L132.46,220.82L132.78,206.34L133.10,191.30L133.43,177.50L133.75,166.77L134.07,160.62L134.40,166.77L134.72,177.50L135.05,191.30L135.37,206.34L135.69,220.82L136.02,233.24L136.34,242.60L136.66,248.54L136.99,251.33L137.31,251.91L137.64,251.33L137.96,248.54L138.28,242.60L138.61,233.24L138.93,220.82L139.25,206.34L139.58,191.30L139.90,177.50L140.23,166.77L140.55,160.62L140.87,166.77L141.20,177.50L141.52,191.30L141.84,206.34L142.17,220.82L142.49,233.24L142.82,242.60L143.14,248.54L143.46,251.33L143.79,251.91L144.11,251.33L144.44,248.54L144.76,242.60L145.08,233.24L145.41,220.82L145.73,206.34L146.05,191.30L146.38,177.50L146.70,166.77L147.03,160.62L147.35,166.77L147.67,177.50L148.00,191.30L148.32,206.34L148.64,220.82L148.97,233.24L149.29,242.60L149.62,248.54L149.94,251.33L150.26,251.91L150.59,251.33L150.91,248.54L151.23,242.60L151.56,233.24L151.88,220.82L152.20,206.34L152.53,191.30L152.85,177.50L153.18,166.77L153.50,160.62L153.82,166.77L154.15,177.50L154.47,191.30L154.79,206.34L155.12,220.82L155.44,233.24L155.77,242.60L156.09,248.54L156.41,251.33L156.74,251.91L156.80,251.90" stroke="#D98AF0" stroke-width="1.0" fill="none" stroke-linejoin="round"/>
<line x1="35.70" y1="254.50" x2="35.70" y2="252.30" stroke="#222" stroke-width="0.8" />
<text x="35.70" y="263.60" font-size="9" font-weight="normal" fill="#000" text-anchor="middle" >0</text>
<line x1="59.30" y1="254.50" x2="59.30" y2="252.30" stroke="#222" stroke-width="0.8" />
<text x="59.30" y="263.60" font-size="9" font-weight="normal" fill="#000" text-anchor="middle" >10</text>
<line x1="82.90" y1="254.50" x2="82.90" y2="252.30" stroke="#222" stroke-width="0.8" />
<text x="82.90" y="263.60" font-size="9" font-weight="normal" fill="#000" text-anchor="middle" >20</text>
<line x1="106.50" y1="254.50" x2="106.50" y2="252.30" stroke="#222" stroke-width="0.8" />
<text x="106.50" y="263.60" font-size="9" font-weight="normal" fill="#000" text-anchor="middle" >30</text>
<line x1="130.10" y1="254.50" x2="130.10" y2="252.30" stroke="#222" stroke-width="0.8" />
<text x="130.10" y="263.60" font-size="9" font-weight="normal" fill="#000" text-anchor="middle" >40</text>
<line x1="153.70" y1="254.50" x2="153.70" y2="252.30" stroke="#222" stroke-width="0.8" />
<text x="153.70" y="263.60" font-size="9" font-weight="normal" fill="#000" text-anchor="middle" >50</text>
<line x1="47.50" y1="254.50" x2="47.50" y2="253.18" stroke="#222" stroke-width="0.7" />
<line x1="71.10" y1="254.50" x2="71.10" y2="253.18" stroke="#222" stroke-width="0.7" />
<line x1="94.70" y1="254.50" x2="94.70" y2="253.18" stroke="#222" stroke-width="0.7" />
<line x1="118.30" y1="254.50" x2="118.30" y2="253.18" stroke="#222" stroke-width="0.7" />
<line x1="141.90" y1="254.50" x2="141.90" y2="253.18" stroke="#222" stroke-width="0.7" />
<line x1="165.50" y1="254.50" x2="165.50" y2="253.18" stroke="#222" stroke-width="0.7" />
<line x1="35.70" y1="253.70" x2="37.90" y2="253.70" stroke="#222" stroke-width="0.8" />
<text x="33.20" y="256.67" font-size="9" font-weight="normal" fill="#000" text-anchor="end" >0</text>
<line x1="35.70" y1="235.80" x2="37.90" y2="235.80" stroke="#222" stroke-width="0.8" />
<text x="33.20" y="238.77" font-size="9" font-weight="normal" fill="#000" text-anchor="end" >10</text>
<line x1="35.70" y1="217.90" x2="37.90" y2="217.90" stroke="#222" stroke-width="0.8" />
<text x="33.20" y="220.87" font-size="9" font-weight="normal" fill="#000" text-anchor="end" >20</text>
<line x1="35.70" y1="200.00" x2="37.90" y2="200.00" stroke="#222" stroke-width="0.8" />
<text x="33.20" y="202.97" font-size="9" font-weight="normal" fill="#000" text-anchor="end" >30</text>
<line x1="35.70" y1="182.10" x2="37.90" y2="182.10" stroke="#222" stroke-width="0.8" />
<text x="33.20" y="185.07" font-size="9" font-weight="normal" fill="#000" text-anchor="end" >40</text>
<line x1="35.70" y1="164.20" x2="37.90" y2="164.20" stroke="#222" stroke-width="0.8" />
<text x="33.20" y="167.17" font-size="9" font-weight="normal" fill="#000" text-anchor="end" >50</text>
<line x1="35.70" y1="146.30" x2="37.90" y2="146.30" stroke="#222" stroke-width="0.8" />
<text x="33.20" y="149.27" font-size="9" font-weight="normal" fill="#000" text-anchor="end" >60</text>
<line x1="35.70" y1="244.75" x2="37.02" y2="244.75" stroke="#222" stroke-width="0.7" />
<line x1="35.70" y1="226.85" x2="37.02" y2="226.85" stroke="#222" stroke-width="0.7" />
<line x1="35.70" y1="208.95" x2="37.02" y2="208.95" stroke="#222" stroke-width="0.7" />
<line x1="35.70" y1="191.05" x2="37.02" y2="191.05" stroke="#222" stroke-width="0.7" />
<line x1="35.70" y1="173.15" x2="37.02" y2="173.15" stroke="#222" stroke-width="0.7" />
<line x1="35.70" y1="155.25" x2="37.02" y2="155.25" stroke="#222" stroke-width="0.7" />
<text x="100.50" y="272.00" font-size="8.9" font-weight="normal" fill="#000" text-anchor="middle" >Time (s)</text>
<text x="20.2" y="197.7" font-size="8.9" text-anchor="middle" transform="rotate(-90 20.2 197.7)">(R-R0)/R0 (%)</text>
<line x1="39.00" y1="152.00" x2="59.00" y2="152.00" stroke="#555" stroke-width="1" />
<text x="61.80" y="155.00" font-size="9" font-weight="normal" fill="#000" text-anchor="start" >10%</text>
<line x1="39.00" y1="163.05" x2="59.00" y2="163.05" stroke="#F4514A" stroke-width="1" />
<text x="61.80" y="166.05" font-size="9" font-weight="normal" fill="#000" text-anchor="start" >20%</text>
<line x1="39.00" y1="174.10" x2="59.00" y2="174.10" stroke="#2C8BEA" stroke-width="1" />
<text x="61.80" y="177.10" font-size="9" font-weight="normal" fill="#000" text-anchor="start" >30%</text>
<line x1="39.00" y1="185.15" x2="59.00" y2="185.15" stroke="#2DBE80" stroke-width="1" />
<text x="61.80" y="188.15" font-size="9" font-weight="normal" fill="#000" text-anchor="start" >40%</text>
<line x1="39.00" y1="196.20" x2="59.00" y2="196.20" stroke="#D98AF0" stroke-width="1" />
<text x="61.80" y="199.20" font-size="9" font-weight="normal" fill="#000" text-anchor="start" >50%</text>
<text x="184.60" y="151.80" font-size="24" font-weight="bold" fill="#000" text-anchor="start" >c</text>
<rect x="218.2" y="145.1" width="130.00" height="109.50" fill="#fff" stroke="#222" stroke-width="1.0"/>
<path d="M218.40,248.12L218.40,248.12L218.52,248.05L218.64,247.70L218.76,246.95L218.88,245.78L219.00,244.22L219.12,242.39L219.24,240.51L219.36,238.77L219.48,237.42L219.60,236.65L219.72,237.42L219.84,238.77L219.96,240.51L220.08,242.39L220.20,244.22L220.32,245.78L220.44,246.95L220.56,247.70L220.68,248.05L220.80,248.12L220.92,248.05L221.04,247.70L221.16,246.95L221.28,245.78L221.40,244.22L221.52,242.39L221.64,240.51L221.76,238.77L221.88,237.42L222.00,236.65L222.12,237.42L222.24,238.77L222.36,240.51L222.48,242.39L222.60,244.22L222.72,245.78L222.84,246.95L222.96,247.70L223.08,248.05L223.20,248.12L223.32,248.05L223.44,247.70L223.56,246.95L223.68,245.78L223.80,244.22L223.92,242.39L224.04,240.51L224.16,238.77L224.28,237.42L224.40,236.65L224.52,237.42L224.64,238.77L224.76,240.51L224.88,242.39L225.00,244.22L225.12,245.78L225.24,246.95L225.36,247.70L225.48,248.05L225.60,248.12L225.72,248.05L225.84,247.70L225.96,246.95L226.08,245.78L226.20,244.22L226.32,242.39L226.44,240.51L226.56,238.77L226.68,237.42L226.80,236.65L226.92,237.42L227.04,238.77L227.16,240.51L227.28,242.39L227.40,244.22L227.52,245.78L227.64,246.95L227.76,247.70L227.88,248.05L228.00,248.12L228.12,248.05L228.24,247.70L228.36,246.95L228.48,245.78L228.60,244.22L228.72,242.39L228.84,240.51L228.96,238.77L229.08,237.42L229.20,236.65L229.32,237.42L229.44,238.77L229.56,240.51L229.68,242.39L229.80,244.22L229.92,245.78L230.04,246.95L230.16,247.70L230.28,248.05L230.40,248.12L230.52,248.05L230.64,247.70L230.76,246.95L230.88,245.78L231.00,244.22L231.12,242.39L231.24,240.51L231.36,238.77L231.48,237.42L231.60,236.65L231.72,237.42L231.84,238.77L231.96,240.51L232.08,242.39L232.20,244.22L232.32,245.78L232.44,246.95L232.56,247.70L232.60,247.85" stroke="#555" stroke-width="1.0" fill="none" stroke-linejoin="round"/>
<path d="M232.20,245.05L232.37,242.75L232.57,239.17L232.78,235.00L232.98,230.67L233.19,226.69L233.39,223.60L233.60,221.83L233.81,223.60L234.01,226.69L234.22,230.67L234.42,235.00L234.62,239.17L234.83,242.75L235.03,245.44L235.24,247.15L235.44,247.95L235.65,248.12L235.86,247.95L236.06,247.15L236.27,245.44L236.47,242.75L236.68,239.17L236.88,235.00L237.09,230.67L237.29,226.69L237.50,223.60L237.70,221.83L237.91,223.60L238.11,226.69L238.31,230.67L238.52,235.00L238.72,239.17L238.93,242.75L239.13,245.44L239.34,247.15L239.54,247.95L239.75,248.12L239.96,247.95L240.16,247.15L240.37,245.44L240.57,242.75L240.78,239.17L240.98,235.00L241.19,230.67L241.39,226.69L241.59,223.60L241.80,221.83L242.01,223.60L242.21,226.69L242.42,230.67L242.62,235.00L242.83,239.17L243.03,242.75L243.24,245.44L243.44,247.15L243.65,247.95L243.85,248.12L244.06,247.95L244.26,247.15L244.47,245.44L244.67,242.75L244.88,239.17L245.08,235.00L245.28,230.67L245.49,226.69L245.69,223.60L245.90,221.83L246.11,223.60L246.31,226.69L246.52,230.67L246.72,235.00L246.93,239.17L247.13,242.75L247.34,245.44L247.54,247.15L247.75,247.95L247.95,248.12L248.16,247.95L248.36,247.15L248.56,245.44L248.77,242.75L248.97,239.17L249.18,235.00L249.38,230.67L249.59,226.69L249.79,223.60L250.00,221.83L250.21,223.60L250.41,226.69L250.62,230.67L250.82,235.00L251.03,239.17L251.23,242.75L251.44,245.44L251.64,247.15L251.84,247.95L252.00,248.12" stroke="#F4514A" stroke-width="1.0" fill="none" stroke-linejoin="round"/>
<path d="M251.60,248.10L251.76,247.84L252.01,246.50L252.26,243.64L252.51,239.13L252.76,233.15L253.00,226.17L253.25,218.92L253.50,212.28L253.75,207.11L254.00,204.15L254.25,207.11L254.50,212.28L254.75,218.92L255.00,226.17L255.24,233.15L255.49,239.13L255.74,243.64L255.99,246.50L256.24,247.84L256.49,248.12L256.74,247.84L256.99,246.50L257.23,243.64L257.48,239.13L257.73,233.15L257.98,226.17L258.23,218.92L258.48,212.28L258.73,207.11L258.98,204.15L259.22,207.11L259.47,212.28L259.72,218.92L259.97,226.17L260.22,233.15L260.47,239.13L260.72,243.64L260.97,246.50L261.21,247.84L261.46,248.12L261.71,247.84L261.96,246.50L262.21,243.64L262.46,239.13L262.71,233.15L262.95,226.17L263.20,218.92L263.45,212.28L263.70,207.11L263.95,204.15L264.20,207.11L264.45,212.28L264.70,218.92L264.94,226.17L265.19,233.15L265.44,239.13L265.69,243.64L265.94,246.50L266.19,247.84L266.44,248.12L266.69,247.84L266.94,246.50L267.18,243.64L267.43,239.13L267.68,233.15L267.93,226.17L268.18,218.92L268.43,212.28L268.68,207.11L268.92,204.15L269.17,207.11L269.42,212.28L269.67,218.92L269.92,226.17L270.17,233.15L270.42,239.13L270.67,243.64L270.91,246.50L271.16,247.84L271.41,248.12L271.66,247.84L271.91,246.50L272.16,243.64L272.41,239.13L272.66,233.15L272.90,226.17L273.15,218.92L273.40,212.28L273.65,207.11L273.90,204.15L274.15,207.11L274.40,212.28L274.65,218.92L274.89,226.17L275.14,233.15L275.39,239.13L275.64,243.64L275.89,246.50L276.14,247.84L276.39,248.12L276.40,248.12" stroke="#2C8BEA" stroke-width="1.0" fill="none" stroke-linejoin="round"/>
<path d="M276.60,248.12L276.60,248.12L276.89,247.71L277.18,245.75L277.47,241.57L277.76,234.98L278.05,226.23L278.34,216.03L278.63,205.44L278.92,195.72L279.21,188.16L279.50,183.83L279.79,188.16L280.08,195.72L280.37,205.44L280.66,216.03L280.95,226.23L281.24,234.98L281.53,241.57L281.82,245.75L282.11,247.71L282.40,248.12L282.69,247.71L282.98,245.75L283.27,241.57L283.56,234.98L283.85,226.23L284.14,216.03L284.43,205.44L284.72,195.72L285.01,188.16L285.30,183.83L285.59,188.16L285.88,195.72L286.17,205.44L286.46,216.03L286.75,226.23L287.04,234.98L287.33,241.57L287.62,245.75L287.91,247.71L288.20,248.12L288.49,247.71L288.78,245.75L289.07,241.57L289.36,234.98L289.65,226.23L289.94,216.03L290.23,205.44L290.52,195.72L290.81,188.16L291.10,183.83L291.39,188.16L291.68,195.72L291.97,205.44L292.26,216.03L292.55,226.23L292.84,234.98L293.13,241.57L293.42,245.75L293.71,247.71L294.00,248.12L294.29,247.71L294.58,245.75L294.87,241.57L295.16,234.98L295.45,226.23L295.74,216.03L296.03,205.44L296.32,195.72L296.61,188.16L296.90,183.83L297.19,188.16L297.48,195.72L297.77,205.44L298.06,216.03L298.35,226.23L298.64,234.98L298.93,241.57L299.22,245.75L299.51,247.71L299.80,248.12L300.09,247.71L300.38,245.75L300.67,241.57L300.96,234.98L301.25,226.23L301.54,216.03L301.83,205.44L302.12,195.72L302.41,188.16L302.70,183.83L302.99,188.16L303.28,195.72L303.57,205.44L303.86,216.03L304.15,226.23L304.44,234.98L304.73,241.57L305.02,245.75L305.31,247.71L305.60,248.12L305.60,248.12" stroke="#2DBE80" stroke-width="1.0" fill="none" stroke-linejoin="round"/>
<path d="M305.30,248.12L305.63,247.58L305.97,244.95L306.31,239.38L306.65,230.58L306.99,218.90L307.33,205.29L307.68,191.15L308.02,178.19L308.36,168.10L308.70,162.32L309.04,168.10L309.38,178.19L309.72,191.15L310.06,205.29L310.41,218.90L310.75,230.58L311.09,239.38L311.43,244.95L311.77,247.58L312.11,248.12L312.45,247.58L312.80,244.95L313.14,239.38L313.48,230.58L313.82,218.90L314.16,205.29L314.50,191.15L314.84,178.19L315.18,168.10L315.52,162.32L315.87,168.10L316.21,178.19L316.55,191.15L316.89,205.29L317.23,218.90L317.57,230.58L317.91,239.38L318.25,244.95L318.60,247.58L318.94,248.12L319.28,247.58L319.62,244.95L319.96,239.38L320.30,230.58L320.64,218.90L320.99,205.29L321.33,191.15L321.67,178.19L322.01,168.10L322.35,162.32L322.69,168.10L323.03,178.19L323.37,191.15L323.72,205.29L324.06,218.90L324.40,230.58L324.74,239.38L325.08,244.95L325.42,247.58L325.76,248.12L326.10,247.58L326.44,244.95L326.79,239.38L327.13,230.58L327.47,218.90L327.81,205.29L328.15,191.15L328.49,178.19L328.83,168.10L329.18,162.32L329.52,168.10L329.86,178.19L330.20,191.15L330.54,205.29L330.88,218.90L331.22,230.58L331.56,239.38L331.91,244.95L332.25,247.58L332.59,248.12L332.93,247.58L333.27,244.95L333.61,239.38L333.95,230.58L334.29,218.90L334.63,205.29L334.98,191.15L335.32,178.19L335.66,168.10L336.00,162.32L336.34,168.10L336.68,178.19L337.02,191.15L337.37,205.29L337.71,218.90L338.05,230.58L338.39,239.38L338.73,244.95L339.07,247.58L339.40,248.12" stroke="#D98AF0" stroke-width="1.0" fill="none" stroke-linejoin="round"/>
<line x1="218.20" y1="254.60" x2="218.20" y2="252.40" stroke="#222" stroke-width="0.8" />
<text x="218.20" y="265.00" font-size="10" font-weight="normal" fill="#000" text-anchor="middle" >0</text>
<line x1="238.35" y1="254.60" x2="238.35" y2="252.40" stroke="#222" stroke-width="0.8" />
<text x="238.35" y="265.00" font-size="10" font-weight="normal" fill="#000" text-anchor="middle" >20</text>
<line x1="258.50" y1="254.60" x2="258.50" y2="252.40" stroke="#222" stroke-width="0.8" />
<text x="258.50" y="265.00" font-size="10" font-weight="normal" fill="#000" text-anchor="middle" >40</text>
<line x1="278.65" y1="254.60" x2="278.65" y2="252.40" stroke="#222" stroke-width="0.8" />
<text x="278.65" y="265.00" font-size="10" font-weight="normal" fill="#000" text-anchor="middle" >60</text>
<line x1="298.80" y1="254.60" x2="298.80" y2="252.40" stroke="#222" stroke-width="0.8" />
<text x="298.80" y="265.00" font-size="10" font-weight="normal" fill="#000" text-anchor="middle" >80</text>
<line x1="318.95" y1="254.60" x2="318.95" y2="252.40" stroke="#222" stroke-width="0.8" />
<text x="318.95" y="265.00" font-size="10" font-weight="normal" fill="#000" text-anchor="middle" >100</text>
<line x1="339.10" y1="254.60" x2="339.10" y2="252.40" stroke="#222" stroke-width="0.8" />
<text x="339.10" y="265.00" font-size="10" font-weight="normal" fill="#000" text-anchor="middle" >120</text>
<line x1="228.27" y1="254.60" x2="228.27" y2="253.28" stroke="#222" stroke-width="0.7" />
<line x1="248.42" y1="254.60" x2="248.42" y2="253.28" stroke="#222" stroke-width="0.7" />
<line x1="268.57" y1="254.60" x2="268.57" y2="253.28" stroke="#222" stroke-width="0.7" />
<line x1="288.73" y1="254.60" x2="288.73" y2="253.28" stroke="#222" stroke-width="0.7" />
<line x1="308.88" y1="254.60" x2="308.88" y2="253.28" stroke="#222" stroke-width="0.7" />
<line x1="329.02" y1="254.60" x2="329.02" y2="253.28" stroke="#222" stroke-width="0.7" />
<line x1="218.20" y1="248.60" x2="220.40" y2="248.60" stroke="#222" stroke-width="0.8" />
<text x="216.60" y="251.90" font-size="10" font-weight="normal" fill="#000" text-anchor="end" >0</text>
<line x1="218.20" y1="224.70" x2="220.40" y2="224.70" stroke="#222" stroke-width="0.8" />
<text x="216.60" y="228.00" font-size="10" font-weight="normal" fill="#000" text-anchor="end" >100</text>
<line x1="218.20" y1="200.80" x2="220.40" y2="200.80" stroke="#222" stroke-width="0.8" />
<text x="216.60" y="204.10" font-size="10" font-weight="normal" fill="#000" text-anchor="end" >200</text>
<line x1="218.20" y1="176.90" x2="220.40" y2="176.90" stroke="#222" stroke-width="0.8" />
<text x="216.60" y="180.20" font-size="10" font-weight="normal" fill="#000" text-anchor="end" >300</text>
<line x1="218.20" y1="153.00" x2="220.40" y2="153.00" stroke="#222" stroke-width="0.8" />
<text x="216.60" y="156.30" font-size="10" font-weight="normal" fill="#000" text-anchor="end" >400</text>
<line x1="218.20" y1="236.65" x2="219.52" y2="236.65" stroke="#222" stroke-width="0.7" />
<line x1="218.20" y1="212.75" x2="219.52" y2="212.75" stroke="#222" stroke-width="0.7" />
<line x1="218.20" y1="188.85" x2="219.52" y2="188.85" stroke="#222" stroke-width="0.7" />
<line x1="218.20" y1="164.95" x2="219.52" y2="164.95" stroke="#222" stroke-width="0.7" />
<text x="283.00" y="274.80" font-size="10" font-weight="normal" fill="#000" text-anchor="middle" >Time (s)</text>
<text x="197.6" y="194" font-size="9.6" text-anchor="middle" transform="rotate(-90 197.6 194)">(R-R<tspan font-size="6.2" dy="1.5">0</tspan><tspan dy="-1.5">)/R</tspan><tspan font-size="6.2" dy="1.5">0</tspan><tspan dy="-1.5"> (%)</tspan></text>
<line x1="222.70" y1="151.40" x2="243.60" y2="151.40" stroke="#555" stroke-width="1" />
<text x="247.00" y="154.60" font-size="10" font-weight="normal" fill="#000" text-anchor="start" >50%</text>
<line x1="222.70" y1="163.00" x2="243.60" y2="163.00" stroke="#F4514A" stroke-width="1" />
<text x="247.00" y="166.20" font-size="10" font-weight="normal" fill="#000" text-anchor="start" >100%</text>
<line x1="222.70" y1="174.60" x2="243.60" y2="174.60" stroke="#2C8BEA" stroke-width="1" />
<text x="247.00" y="177.80" font-size="10" font-weight="normal" fill="#000" text-anchor="start" >150%</text>
<line x1="222.70" y1="186.20" x2="243.60" y2="186.20" stroke="#2DBE80" stroke-width="1" />
<text x="247.00" y="189.40" font-size="10" font-weight="normal" fill="#000" text-anchor="start" >200%</text>
<line x1="222.70" y1="197.80" x2="243.60" y2="197.80" stroke="#D98AF0" stroke-width="1" />
<text x="247.00" y="201.00" font-size="10" font-weight="normal" fill="#000" text-anchor="start" >250%</text>
<text x="368.60" y="154.60" font-size="24" font-weight="bold" fill="#000" text-anchor="start" >d</text>
<rect x="402.7" y="146.3" width="139.10" height="107.80" fill="#fff" stroke="#222" stroke-width="1.0"/>
<path d="M427.88,240.09L453.06,223.11L478.24,203.97L503.42,180.53L528.60,156.00" stroke="#22E02A" stroke-width="1.2" fill="none" />
<circle cx="427.88" cy="240.09" r="1.6" fill="#22E02A"/>
<circle cx="453.06" cy="223.11" r="1.6" fill="#22E02A"/>
<circle cx="478.24" cy="203.97" r="1.6" fill="#22E02A"/>
<circle cx="503.42" cy="180.53" r="1.6" fill="#22E02A"/>
<circle cx="528.60" cy="156.00" r="1.6" fill="#22E02A"/>
<path d="M407.74,251.94L412.77,248.98L417.81,246.28L422.84,243.32L427.88,240.09" stroke="#1C24F0" stroke-width="1.4" fill="none" />
<circle cx="407.74" cy="251.94" r="1.6" fill="#1C24F0"/>
<circle cx="412.77" cy="248.98" r="1.6" fill="#1C24F0"/>
<circle cx="417.81" cy="246.28" r="1.6" fill="#1C24F0"/>
<circle cx="422.84" cy="243.32" r="1.6" fill="#1C24F0"/>
<circle cx="427.88" cy="240.09" r="1.6" fill="#22E02A"/>
<line x1="402.70" y1="254.10" x2="402.70" y2="251.90" stroke="#222" stroke-width="0.8" />
<text x="402.70" y="262.90" font-size="9" font-weight="normal" fill="#000" text-anchor="middle" >0</text>
<line x1="427.88" y1="254.10" x2="427.88" y2="251.90" stroke="#222" stroke-width="0.8" />
<text x="427.88" y="262.90" font-size="9" font-weight="normal" fill="#000" text-anchor="middle" >50</text>
<line x1="453.06" y1="254.10" x2="453.06" y2="251.90" stroke="#222" stroke-width="0.8" />
<text x="453.06" y="262.90" font-size="9" font-weight="normal" fill="#000" text-anchor="middle" >100</text>
<line x1="478.24" y1="254.10" x2="478.24" y2="251.90" stroke="#222" stroke-width="0.8" />
<text x="478.24" y="262.90" font-size="9" font-weight="normal" fill="#000" text-anchor="middle" >150</text>
<line x1="503.42" y1="254.10" x2="503.42" y2="251.90" stroke="#222" stroke-width="0.8" />
<text x="503.42" y="262.90" font-size="9" font-weight="normal" fill="#000" text-anchor="middle" >200</text>
<line x1="528.60" y1="254.10" x2="528.60" y2="251.90" stroke="#222" stroke-width="0.8" />
<text x="528.60" y="262.90" font-size="9" font-weight="normal" fill="#000" text-anchor="middle" >250</text>
<line x1="415.29" y1="254.10" x2="415.29" y2="252.78" stroke="#222" stroke-width="0.7" />
<line x1="440.47" y1="254.10" x2="440.47" y2="252.78" stroke="#222" stroke-width="0.7" />
<line x1="465.65" y1="254.10" x2="465.65" y2="252.78" stroke="#222" stroke-width="0.7" />
<line x1="490.83" y1="254.10" x2="490.83" y2="252.78" stroke="#222" stroke-width="0.7" />
<line x1="516.01" y1="254.10" x2="516.01" y2="252.78" stroke="#222" stroke-width="0.7" />
<line x1="541.19" y1="254.10" x2="541.19" y2="252.78" stroke="#222" stroke-width="0.7" />
<line x1="402.70" y1="254.10" x2="404.90" y2="254.10" stroke="#222" stroke-width="0.8" />
<text x="400.00" y="257.07" font-size="9" font-weight="normal" fill="#000" text-anchor="end" >0</text>
<line x1="402.70" y1="232.54" x2="404.90" y2="232.54" stroke="#222" stroke-width="0.8" />
<text x="400.00" y="235.51" font-size="9" font-weight="normal" fill="#000" text-anchor="end" >80</text>
<line x1="402.70" y1="210.98" x2="404.90" y2="210.98" stroke="#222" stroke-width="0.8" />
<text x="400.00" y="213.95" font-size="9" font-weight="normal" fill="#000" text-anchor="end" >160</text>
<line x1="402.70" y1="189.42" x2="404.90" y2="189.42" stroke="#222" stroke-width="0.8" />
<text x="400.00" y="192.39" font-size="9" font-weight="normal" fill="#000" text-anchor="end" >240</text>
<line x1="402.70" y1="167.86" x2="404.90" y2="167.86" stroke="#222" stroke-width="0.8" />
<text x="400.00" y="170.83" font-size="9" font-weight="normal" fill="#000" text-anchor="end" >320</text>
<line x1="402.70" y1="146.30" x2="404.90" y2="146.30" stroke="#222" stroke-width="0.8" />
<text x="400.00" y="149.27" font-size="9" font-weight="normal" fill="#000" text-anchor="end" >400</text>
<line x1="402.70" y1="243.32" x2="404.02" y2="243.32" stroke="#222" stroke-width="0.7" />
<line x1="402.70" y1="221.76" x2="404.02" y2="221.76" stroke="#222" stroke-width="0.7" />
<line x1="402.70" y1="200.20" x2="404.02" y2="200.20" stroke="#222" stroke-width="0.7" />
<line x1="402.70" y1="178.64" x2="404.02" y2="178.64" stroke="#222" stroke-width="0.7" />
<line x1="402.70" y1="157.08" x2="404.02" y2="157.08" stroke="#222" stroke-width="0.7" />
<text x="471.80" y="272.00" font-size="9.3" font-weight="normal" fill="#000" text-anchor="middle" >Strain (%)</text>
<text x="382.3" y="200.3" font-size="9" text-anchor="middle" transform="rotate(-90 382.3 200.3)">(R-R<tspan font-size="5.9" dy="1.5">0</tspan><tspan dy="-1.5">)/R</tspan><tspan font-size="5.9" dy="1.5">0</tspan><tspan dy="-1.5"> (%)</tspan></text>
<text x="403.60" y="230.00" font-size="9.4" font-weight="normal" fill="#2A2AF0" text-anchor="start" >GF=1.08</text>
<text x="479.60" y="169.00" font-size="9.4" font-weight="normal" fill="#22E02A" text-anchor="start" >GF=1.77</text>
<text x="7.40" y="285.20" font-size="24" font-weight="bold" fill="#000" text-anchor="start" >e</text>
<rect x="35.5" y="291" width="147.90" height="49.50" fill="#fff" stroke="#222" stroke-width="1.0"/>
<rect x="35.5" y="340.5" width="147.90" height="51.20" fill="#fff" stroke="#222" stroke-width="1.0"/>
<line x1="35.50" y1="340.50" x2="183.40" y2="340.50" stroke="#222" stroke-width="1.4" />
<path d="M35.50,325.40L36.67,325.28L37.84,325.15L39.01,325.02L40.18,324.89L41.35,324.76L42.52,324.63L43.70,324.50L44.87,324.37L46.04,324.25L47.21,324.12L48.38,323.99L49.55,323.86L50.72,323.73L51.89,323.60L53.06,323.47L54.23,323.34L55.40,323.21L56.58,323.08L57.75,322.95L58.92,322.82L60.09,322.68L61.26,322.55L62.43,322.42L63.60,322.29L64.77,322.15L65.94,322.02L67.11,321.89L68.28,321.75L69.45,321.62L70.62,321.48L71.80,321.34L72.97,321.21L74.14,321.07L75.31,320.93L76.48,320.79L77.65,320.65L78.82,320.51L79.99,320.37L81.16,320.23L82.33,320.08L83.50,319.94L84.68,319.79L85.85,319.65L87.02,319.50L88.19,319.35L89.36,319.20L90.53,319.05L91.70,318.90L92.87,318.75L94.04,318.59L95.21,318.43L96.38,318.28L97.55,318.12L98.73,317.96L99.90,317.80L101.07,317.63L102.24,317.47L103.41,317.30L104.58,317.13L105.75,316.96L106.92,316.79L108.09,316.62L109.26,316.44L110.43,316.27L111.60,316.09L112.78,315.91L113.95,315.72L115.12,315.54L116.29,315.35L117.46,315.16L118.63,314.97L119.80,314.78L120.97,314.58L122.14,314.38L123.31,314.18L124.48,313.98L125.65,313.77L126.83,313.56L128.00,313.35L129.17,313.14L130.34,312.92L131.51,312.70L132.68,312.48L133.85,312.25L135.02,312.03L136.19,311.80L137.36,311.56L138.53,311.32L139.70,311.08L140.88,310.84L142.05,310.59L143.22,310.35L144.39,310.09L145.56,309.84L146.73,309.58L147.90,309.31L149.07,309.05L150.24,308.78L151.41,308.50L152.58,308.22L153.75,307.94L154.93,307.66L156.10,307.37L157.27,307.07L158.44,306.78L159.61,306.48L160.78,306.17L161.95,305.86L163.12,305.55L164.29,305.23L165.46,304.91L166.63,304.58L167.80,304.25L168.98,303.91L170.15,303.57L171.32,303.22L172.49,302.87L173.66,302.52L174.83,302.16L176.00,301.80L176.00,320.50L174.83,320.75L173.66,320.99L172.49,321.23L171.32,321.47L170.15,321.70L168.98,321.93L167.80,322.16L166.63,322.38L165.46,322.60L164.29,322.82L163.12,323.03L161.95,323.24L160.78,323.45L159.61,323.65L158.44,323.86L157.27,324.05L156.10,324.25L154.93,324.44L153.75,324.63L152.58,324.82L151.41,325.00L150.24,325.19L149.07,325.36L147.90,325.54L146.73,325.72L145.56,325.89L144.39,326.06L143.22,326.23L142.05,326.39L140.88,326.56L139.70,326.72L138.53,326.88L137.36,327.03L136.19,327.19L135.02,327.34L133.85,327.49L132.68,327.64L131.51,327.79L130.34,327.93L129.17,328.08L128.00,328.22L126.83,328.36L125.65,328.50L124.48,328.64L123.31,328.77L122.14,328.91L120.97,329.04L119.80,329.17L118.63,329.30L117.46,329.43L116.29,329.56L115.12,329.69L113.95,329.81L112.78,329.94L111.60,330.06L110.43,330.18L109.26,330.30L108.09,330.42L106.92,330.54L105.75,330.66L104.58,330.78L103.41,330.89L102.24,331.01L101.07,331.12L99.90,331.23L98.73,331.35L97.55,331.46L96.38,331.57L95.21,331.68L94.04,331.79L92.87,331.90L91.70,332.01L90.53,332.11L89.36,332.22L88.19,332.33L87.02,332.43L85.85,332.54L84.68,332.65L83.50,332.75L82.33,332.85L81.16,332.96L79.99,333.06L78.82,333.16L77.65,333.27L76.48,333.37L75.31,333.47L74.14,333.57L72.97,333.67L71.80,333.78L70.62,333.88L69.45,333.98L68.28,334.08L67.11,334.18L65.94,334.28L64.77,334.38L63.60,334.48L62.43,334.58L61.26,334.68L60.09,334.77L58.92,334.87L57.75,334.97L56.58,335.07L55.40,335.17L54.23,335.27L53.06,335.37L51.89,335.47L50.72,335.57L49.55,335.66L48.38,335.76L47.21,335.86L46.04,335.96L44.87,336.06L43.70,336.16L42.52,336.25L41.35,336.35L40.18,336.45L39.01,336.55L37.84,336.65L36.67,336.75L35.50,336.84Z" stroke="#FF0A0A" stroke-width="0.6" fill="#FF0A0A" />
<path d="M35.50,376.00L36.67,375.96L37.84,375.91L39.01,375.86L40.18,375.81L41.35,375.77L42.52,375.72L43.70,375.67L44.87,375.62L46.04,375.58L47.21,375.53L48.38,375.48L49.55,375.44L50.72,375.39L51.89,375.34L53.06,375.29L54.23,375.25L55.40,375.20L56.58,375.15L57.75,375.10L58.92,375.06L60.09,375.01L61.26,374.96L62.43,374.92L63.60,374.87L64.77,374.82L65.94,374.77L67.11,374.73L68.28,374.68L69.45,374.63L70.62,374.58L71.80,374.54L72.97,374.49L74.14,374.44L75.31,374.40L76.48,374.35L77.65,374.30L78.82,374.25L79.99,374.21L81.16,374.16L82.33,374.11L83.50,374.06L84.68,374.02L85.85,373.97L87.02,373.92L88.19,373.88L89.36,373.83L90.53,373.78L91.70,373.73L92.87,373.69L94.04,373.64L95.21,373.59L96.38,373.54L97.55,373.50L98.73,373.45L99.90,373.40L101.07,373.36L102.24,373.31L103.41,373.26L104.58,373.21L105.75,373.17L106.92,373.12L108.09,373.07L109.26,373.02L110.43,372.98L111.60,372.93L112.78,372.88L113.95,372.84L115.12,372.79L116.29,372.74L117.46,372.69L118.63,372.65L119.80,372.60L120.97,372.55L122.14,372.50L123.31,372.46L124.48,372.41L125.65,372.36L126.83,372.32L128.00,372.27L129.17,372.22L130.34,372.17L131.51,372.13L132.68,372.08L133.85,372.03L135.02,371.98L136.19,371.94L137.36,371.89L138.53,371.84L139.70,371.80L140.88,371.75L142.05,371.70L143.22,371.65L144.39,371.61L145.56,371.56L146.73,371.51L147.90,371.46L149.07,371.42L150.24,371.37L151.41,371.32L152.58,371.28L153.75,371.23L154.93,371.18L156.10,371.13L157.27,371.09L158.44,371.04L159.61,370.99L160.78,370.94L161.95,370.90L163.12,370.85L164.29,370.80L165.46,370.76L166.63,370.71L167.80,370.66L168.98,370.61L170.15,370.57L171.32,370.52L172.49,370.47L173.66,370.42L174.83,370.38L176.00,370.33L176.00,383.78L174.83,383.81L173.66,383.85L172.49,383.88L171.32,383.92L170.15,383.95L168.98,383.99L167.80,384.02L166.63,384.06L165.46,384.09L164.29,384.12L163.12,384.16L161.95,384.19L160.78,384.23L159.61,384.26L158.44,384.30L157.27,384.33L156.10,384.36L154.93,384.40L153.75,384.43L152.58,384.47L151.41,384.50L150.24,384.54L149.07,384.57L147.90,384.60L146.73,384.64L145.56,384.67L144.39,384.71L143.22,384.74L142.05,384.78L140.88,384.81L139.70,384.84L138.53,384.88L137.36,384.91L136.19,384.95L135.02,384.98L133.85,385.02L132.68,385.05L131.51,385.08L130.34,385.12L129.17,385.15L128.00,385.19L126.83,385.22L125.65,385.26L124.48,385.29L123.31,385.32L122.14,385.36L120.97,385.39L119.80,385.43L118.63,385.46L117.46,385.50L116.29,385.53L115.12,385.56L113.95,385.60L112.78,385.63L111.60,385.67L110.43,385.70L109.26,385.74L108.09,385.77L106.92,385.80L105.75,385.84L104.58,385.87L103.41,385.91L102.24,385.94L101.07,385.98L99.90,386.01L98.73,386.05L97.55,386.08L96.38,386.11L95.21,386.15L94.04,386.18L92.87,386.22L91.70,386.25L90.53,386.29L89.36,386.32L88.19,386.35L87.02,386.39L85.85,386.42L84.68,386.46L83.50,386.49L82.33,386.53L81.16,386.56L79.99,386.59L78.82,386.63L77.65,386.66L76.48,386.70L75.31,386.73L74.14,386.77L72.97,386.80L71.80,386.83L70.62,386.87L69.45,386.90L68.28,386.94L67.11,386.97L65.94,387.01L64.77,387.04L63.60,387.07L62.43,387.11L61.26,387.14L60.09,387.18L58.92,387.21L57.75,387.25L56.58,387.28L55.40,387.31L54.23,387.35L53.06,387.38L51.89,387.42L50.72,387.45L49.55,387.49L48.38,387.52L47.21,387.55L46.04,387.59L44.87,387.62L43.70,387.66L42.52,387.69L41.35,387.73L40.18,387.76L39.01,387.80L37.84,387.83L36.67,387.86L35.50,387.90Z" stroke="#0A0AFF" stroke-width="0.6" fill="#0A0AFF" />
<line x1="35.50" y1="336.30" x2="37.50" y2="336.30" stroke="#222" stroke-width="0.8" />
<text x="33.20" y="339.04" font-size="8.3" font-weight="normal" fill="#000" text-anchor="end" >0</text>
<line x1="35.50" y1="325.40" x2="37.50" y2="325.40" stroke="#222" stroke-width="0.8" />
<text x="33.20" y="328.14" font-size="8.3" font-weight="normal" fill="#000" text-anchor="end" >120</text>
<line x1="35.50" y1="314.51" x2="37.50" y2="314.51" stroke="#222" stroke-width="0.8" />
<text x="33.20" y="317.25" font-size="8.3" font-weight="normal" fill="#000" text-anchor="end" >240</text>
<line x1="35.50" y1="303.61" x2="37.50" y2="303.61" stroke="#222" stroke-width="0.8" />
<text x="33.20" y="306.35" font-size="8.3" font-weight="normal" fill="#000" text-anchor="end" >360</text>
<line x1="35.50" y1="292.72" x2="37.50" y2="292.72" stroke="#222" stroke-width="0.8" />
<text x="33.20" y="295.45" font-size="8.3" font-weight="normal" fill="#000" text-anchor="end" >480</text>
<line x1="35.50" y1="386.80" x2="37.50" y2="386.80" stroke="#222" stroke-width="0.8" />
<text x="33.20" y="389.54" font-size="8.3" font-weight="normal" fill="#000" text-anchor="end" >0</text>
<line x1="35.50" y1="375.82" x2="37.50" y2="375.82" stroke="#222" stroke-width="0.8" />
<text x="33.20" y="378.56" font-size="8.3" font-weight="normal" fill="#000" text-anchor="end" >120</text>
<line x1="35.50" y1="364.84" x2="37.50" y2="364.84" stroke="#222" stroke-width="0.8" />
<text x="33.20" y="367.58" font-size="8.3" font-weight="normal" fill="#000" text-anchor="end" >240</text>
<line x1="35.50" y1="353.86" x2="37.50" y2="353.86" stroke="#222" stroke-width="0.8" />
<text x="33.20" y="356.60" font-size="8.3" font-weight="normal" fill="#000" text-anchor="end" >360</text>
<line x1="35.50" y1="342.88" x2="37.50" y2="342.88" stroke="#222" stroke-width="0.8" />
<text x="33.20" y="345.62" font-size="8.3" font-weight="normal" fill="#000" text-anchor="end" >480</text>
<line x1="35.50" y1="391.70" x2="35.50" y2="389.80" stroke="#222" stroke-width="0.7" />
<text x="35.50" y="397.80" font-size="5.4" font-weight="normal" fill="#000" text-anchor="middle" >0</text>
<line x1="63.60" y1="391.70" x2="63.60" y2="389.80" stroke="#222" stroke-width="0.7" />
<text x="63.60" y="397.80" font-size="5.4" font-weight="normal" fill="#000" text-anchor="middle" >200</text>
<line x1="91.70" y1="391.70" x2="91.70" y2="389.80" stroke="#222" stroke-width="0.7" />
<text x="91.70" y="397.80" font-size="5.4" font-weight="normal" fill="#000" text-anchor="middle" >400</text>
<line x1="119.80" y1="391.70" x2="119.80" y2="389.80" stroke="#222" stroke-width="0.7" />
<text x="119.80" y="397.80" font-size="5.4" font-weight="normal" fill="#000" text-anchor="middle" >600</text>
<line x1="147.90" y1="391.70" x2="147.90" y2="389.80" stroke="#222" stroke-width="0.7" />
<text x="147.90" y="397.80" font-size="5.4" font-weight="normal" fill="#000" text-anchor="middle" >800</text>
<line x1="176.00" y1="391.70" x2="176.00" y2="389.80" stroke="#222" stroke-width="0.7" />
<text x="176.00" y="397.80" font-size="5.4" font-weight="normal" fill="#000" text-anchor="middle" >1000</text>
<line x1="49.55" y1="391.70" x2="49.55" y2="390.60" stroke="#222" stroke-width="0.6" />
<line x1="77.65" y1="391.70" x2="77.65" y2="390.60" stroke="#222" stroke-width="0.6" />
<line x1="105.75" y1="391.70" x2="105.75" y2="390.60" stroke="#222" stroke-width="0.6" />
<line x1="133.85" y1="391.70" x2="133.85" y2="390.60" stroke="#222" stroke-width="0.6" />
<line x1="161.95" y1="391.70" x2="161.95" y2="390.60" stroke="#222" stroke-width="0.6" />
<text x="107.60" y="403.20" font-size="6.1" font-weight="normal" fill="#000" text-anchor="middle" >Time (s)</text>
<line x1="40.00" y1="298.60" x2="59.00" y2="298.60" stroke="#FF2A2A" stroke-width="1.2" />
<text x="61.80" y="301.50" font-size="8.4" font-weight="normal" fill="#000" text-anchor="start" >ZH fiber</text>
<text x="127.30" y="301.50" font-size="8.4" font-weight="normal" fill="#000" text-anchor="start" >1000 Cycles</text>
<line x1="41.50" y1="351.40" x2="59.00" y2="351.40" stroke="#2A2AFF" stroke-width="1.2" />
<text x="61.80" y="354.20" font-size="8.3" font-weight="normal" fill="#000" text-anchor="start" >ZOH fiber</text>
<text x="17.5" y="365.5" font-size="8.6" text-anchor="middle" transform="rotate(-90 17.5 365.5)">(R-R<tspan font-size="5.6" dy="1.4">0</tspan><tspan dy="-1.4">)/R</tspan><tspan font-size="5.6" dy="1.4">0</tspan><tspan dy="-1.4"> (%)</tspan></text>
<text x="17.5" y="317" font-size="8.6" text-anchor="middle" transform="rotate(-90 17.5 317)">(R-R<tspan font-size="5.6" dy="1.4">0</tspan><tspan dy="-1.4">)/R</tspan><tspan font-size="5.6" dy="1.4">0</tspan><tspan dy="-1.4"> (%)</tspan></text>
<text x="185.40" y="291.60" font-size="24" font-weight="bold" fill="#000" text-anchor="start" >f</text>
<defs>
<linearGradient id="bg1" x1="0" y1="0" x2="0" y2="1"><stop offset="0" stop-color="#2B2C2E"/><stop offset="0.3" stop-color="#232426"/><stop offset="1" stop-color="#121214"/></linearGradient>
<linearGradient id="bg2" x1="0" y1="0" x2="0.6" y2="1"><stop offset="0" stop-color="#39393B"/><stop offset="0.5" stop-color="#2B2B2D"/><stop offset="1" stop-color="#1E1E20"/></linearGradient>
<linearGradient id="bg3" x1="0" y1="0" x2="0" y2="1"><stop offset="0" stop-color="#252628"/><stop offset="0.25" stop-color="#3B3D40"/><stop offset="0.6" stop-color="#2A2B2E"/><stop offset="1" stop-color="#141416"/></linearGradient>
<linearGradient id="skin1" x1="0" y1="0" x2="0" y2="1"><stop offset="0" stop-color="#E3C4AB"/><stop offset="0.4" stop-color="#F1D9C6"/><stop offset="1" stop-color="#BE9478"/></linearGradient>
<linearGradient id="skin2" x1="0" y1="0" x2="1" y2="1"><stop offset="0" stop-color="#E9CDB6"/><stop offset="0.6" stop-color="#E6C6AD"/><stop offset="1" stop-color="#C79E84"/></linearGradient>
<linearGradient id="skin3" x1="0" y1="0" x2="0" y2="1"><stop offset="0" stop-color="#B3937B"/><stop offset="0.45" stop-color="#C2A48C"/><stop offset="1" stop-color="#7E604D"/></linearGradient>
<linearGradient id="pink" x1="0" y1="0" x2="0" y2="1"><stop offset="0" stop-color="#FF30C6"/><stop offset="0.5" stop-color="#FF14BA"/><stop offset="1" stop-color="#F00CA8"/></linearGradient>
<pattern id="knit" width="2.6" height="2.2" patternUnits="userSpaceOnUse"><ellipse cx="1.3" cy="1.1" rx="0.8" ry="0.45" fill="#D8088E" opacity="0.45"/></pattern>
<pattern id="sp" width="3.2" height="3.6" patternUnits="userSpaceOnUse" patternTransform="rotate(12)"><ellipse cx="1" cy="1" rx="0.6" ry="0.8" fill="#A00848" opacity="0.55"/><ellipse cx="2.5" cy="2.8" rx="0.5" ry="0.6" fill="#C0106A" opacity="0.5"/></pattern>
<linearGradient id="spm" x1="0" y1="0" x2="1" y2="0"><stop offset="0" stop-color="#fff" stop-opacity="0"/><stop offset="0.35" stop-color="#fff" stop-opacity="0.25"/><stop offset="1" stop-color="#fff" stop-opacity="1"/></linearGradient>
<mask id="spmask"><rect x="301" y="349" width="66" height="53" fill="url(#spm)"/></mask>
<linearGradient id="mag" x1="0" y1="0" x2="1" y2="0"><stop offset="0" stop-color="#E81CB0"/><stop offset="0.12" stop-color="#FF2CC4"/><stop offset="0.55" stop-color="#FA1EB2"/><stop offset="0.85" stop-color="#E0149A"/><stop offset="1" stop-color="#9A0A66"/></linearGradient>
<clipPath id="c1"><rect x="199.6" y="285.3" width="66.1" height="54.3"/></clipPath>
<clipPath id="c2"><rect x="302.3" y="284.7" width="64.7" height="55.4"/></clipPath>
<clipPath id="c3"><rect x="198.6" y="349.5" width="67.1" height="51.9"/></clipPath>
<clipPath id="c4"><rect x="301.6" y="349.3" width="64.6" height="52.2"/></clipPath>
</defs>
<g clip-path="url(#c1)">
<rect x="199" y="285" width="67" height="55" fill="url(#bg1)"/>
<path d="M199,299.3 C203,299.6 207,301 210.5,302.2 C216,304 222,304.8 227,305 L258,305.3 L266,306 L266,329 L259.6,324.5 L226,325.4 C221,328 217,330 213.3,330.4 L199,330.6Z" fill="url(#skin1)"/>
<path d="M258,305.3 L266,306 L266,329 L259.6,324.5Z" fill="#CFA688"/>
<path d="M199,312 C204,311 208,312.5 211,315" fill="none" stroke="#C9A48A" stroke-width="0.8"/>
<path d="M227,302.2 C231,301 235,300.6 239.4,300.8 C246,301.2 252,302.5 258,304.4 C259.6,306 260.5,308.5 260.7,311 C260.8,315.5 260.4,320 259.6,324 C258.6,326 257,327.5 255.2,328.2 C251.5,328 248,327 245,326 C241,325.3 237,325.2 233.6,325.4 C231.5,326.8 229.8,328 228,328.5 C226.8,327.8 226,326.8 225.6,325.4 C225.2,320.5 225.2,315.5 225.6,311 C225.8,308 226.3,305 227,302.2Z" fill="url(#pink)"/>
<path d="M227,302.2 C231,301 235,300.6 239.4,300.8 C246,301.2 252,302.5 258,304.4 C259.6,306 260.5,308.5 260.7,311 C260.8,315.5 260.4,320 259.6,324 C258.6,326 257,327.5 255.2,328.2 C251.5,328 248,327 245,326 C241,325.3 237,325.2 233.6,325.4 C231.5,326.8 229.8,328 228,328.5 C226.8,327.8 226,326.8 225.6,325.4 C225.2,320.5 225.2,315.5 225.6,311 C225.8,308 226.3,305 227,302.2Z" fill="url(#knit)"/>
<ellipse cx="241.5" cy="325.6" rx="2.4" ry="1" fill="#E9C41A"/>
</g>
<g clip-path="url(#c2)">
<rect x="302" y="284" width="66" height="57" fill="url(#bg2)"/>
<rect x="302" y="335.5" width="66" height="5" fill="#1B1B1D"/>
<path d="M360,295 L368,294 L368,308.5 L360,308.5Z" fill="#D9B89E"/>
<path d="M320.5,289.5 C318,292.5 316,295.5 314.6,298 C313,302 312.2,306.5 311.7,311 C311,315 309.6,319 308.8,322.5 C309,325.5 310.5,328 312.5,329.7 C314,332 316,333.8 318.2,334.7 C320.4,335.6 322.6,335.8 324.7,335.5 C327,334.5 329,333 330.5,331 C331.6,329.6 332.3,328.2 332.7,326.8 C334.5,328.4 336.5,329.6 338.5,330.4 C340.3,330.8 342,330.5 343.5,329.7 C344.5,328.8 344.6,327.8 344.2,326.8 C342.8,324.6 341,322.8 339.2,321 C338,318.5 337,315.8 336.3,313 L338,306 L324,291Z" fill="url(#skin2)"/>
<path d="M309.5,321 C313,323.5 317,325.5 321.5,326.5 C323.5,327 325.5,327 327.5,326.6" fill="none" stroke="#A57C64" stroke-width="0.9"/>
<path d="M322,327 C321.6,329.5 322.5,331.5 324.2,333" fill="none" stroke="#8E624C" stroke-width="1.1"/>
<path d="M326.5,325 C328.5,324.6 330.5,325.4 332.2,327" fill="none" stroke="#6E4434" stroke-width="1.3"/>
<path d="M319.7,290 C322,288.5 324.5,287.3 327,286.3 C331.5,285.2 336.5,284.8 341.4,284.8 C347.5,285 354,285.8 360,287 C361,290 361.5,293.2 361.6,296.5 C361.8,300.3 361.8,304.2 361.6,308 C358.8,308.6 356,308.8 353,308.7 C350.5,307.6 348,306.5 345.7,305.8 C343.3,306.3 340.8,307 338.5,308 C337.5,309.2 336.6,310.4 335.9,311.6 C333.5,310 331.2,308.3 329,306.5 C326.5,303.8 324.4,301 322.5,298 C321.3,295.4 320.4,292.7 319.7,290Z" fill="url(#pink)"/>
<path d="M319.7,290 C322,288.5 324.5,287.3 327,286.3 C331.5,285.2 336.5,284.8 341.4,284.8 C347.5,285 354,285.8 360,287 C361,290 361.5,293.2 361.6,296.5 C361.8,300.3 361.8,304.2 361.6,308 C358.8,308.6 356,308.8 353,308.7 C350.5,307.6 348,306.5 345.7,305.8 C343.3,306.3 340.8,307 338.5,308 C337.5,309.2 336.6,310.4 335.9,311.6 C333.5,310 331.2,308.3 329,306.5 C326.5,303.8 324.4,301 322.5,298 C321.3,295.4 320.4,292.7 319.7,290Z" fill="url(#knit)"/>
<ellipse cx="343.6" cy="309.6" rx="2.2" ry="1.2" fill="#E89A1A"/>
</g>
<defs><marker id="mw" viewBox="0 0 10 10" refX="6" refY="5" markerWidth="3.4" markerHeight="3.4" orient="auto-start-reverse"><path d="M0,0L10,5L0,10Z" fill="#fff"/></marker><marker id="mb" viewBox="0 0 10 10" refX="6" refY="5" markerWidth="3.4" markerHeight="3.4" orient="auto-start-reverse"><path d="M0,0L10,5L0,10Z" fill="#2763AE"/></marker></defs>
<line x1="340.8" y1="287.6" x2="343" y2="302.8" stroke="#fff" stroke-width="1.1" marker-start="url(#mw)" marker-end="url(#mw)"/>
<line x1="326.8" y1="296" x2="356.6" y2="292.6" stroke="#2763AE" stroke-width="1.2" marker-start="url(#mb)" marker-end="url(#mb)"/>
<text x="360.00" y="296.60" font-size="9.6" font-weight="bold" fill="#000" text-anchor="start" >Y</text>
<text x="340.20" y="314.00" font-size="9.2" font-weight="bold" fill="#000" text-anchor="start" >X</text>
<g fill="none" stroke="#1F66B8" stroke-width="2.7"><path d="M283,294 A16.4,12.3 0 0 0 279.2,317.8"/><path d="M286.4,318.5 A16.4,12.3 0 0 0 290.2,294.6"/></g>
<path d="M284,318.5 L278,313.6 L279,322Z" fill="#1F66B8"/><path d="M285.8,294.3 L291,290.2 L291.8,298.6Z" fill="#1F66B8"/>
<g clip-path="url(#c3)">
<rect x="198" y="349" width="68" height="53" fill="url(#bg3)"/>
<path d="M198,369.6 C204,369.4 209,369.8 214.8,370.3 L243,369.4 L253,368.8 C255,371.8 256,375 256,378.2 C256,381.2 255.4,384.2 254.5,387 L246.6,388.6 L217.7,392.7 C215,393.4 212.6,394.4 210.5,395.6 C206.5,397.6 202.4,399.4 198,400.8Z" fill="url(#skin3)"/>
<path d="M243,369.4 L253,368.8 C255,371.8 256,375 256,378.2 C256,381.2 255.4,384.2 254.5,387 L246.6,388.6Z" fill="#D0B39B"/>
<path d="M245,368.8 L266,359.2 L266,389 L254.5,387 C255.4,384.2 256,381.2 256,378.2 C256,375 255,371.8 253,368.8Z" fill="#0B0B0D"/>
<path d="M214.5,371 C218,369.8 221.5,369.1 225,368.8 C230.8,368.6 236.5,368.9 242.2,369.6 C243.8,371.3 245,373.2 245.9,375.3 C246.6,379.6 246.8,384 246.6,388.4 C244.3,389.4 241.9,390.1 239.4,390.5 C234.6,391.3 229.8,391.8 225,392 C222.5,392.4 220.1,392.6 217.7,392.7 C216.8,389.4 216.3,386 216.2,382.6 C215.3,378.8 214.7,374.9 214.5,371Z" fill="url(#pink)"/>
<path d="M214.5,371 C218,369.8 221.5,369.1 225,368.8 C230.8,368.6 236.5,368.9 242.2,369.6 C243.8,371.3 245,373.2 245.9,375.3 C246.6,379.6 246.8,384 246.6,388.4 C244.3,389.4 241.9,390.1 239.4,390.5 C234.6,391.3 229.8,391.8 225,392 C222.5,392.4 220.1,392.6 217.7,392.7 C216.8,389.4 216.3,386 216.2,382.6 C215.3,378.8 214.7,374.9 214.5,371Z" fill="url(#knit)"/>
<ellipse cx="245" cy="376.3" rx="1.3" ry="1" fill="#E2C218"/>
</g>
<rect x="218.2" y="371.6" width="21.6" height="14" fill="none" stroke="#FF1A1A" stroke-width="1.3" stroke-dasharray="3.4,2"/>
<line x1="239.6" y1="371.6" x2="301.2" y2="349.4" stroke="#FF1A1A" stroke-width="1.4" stroke-dasharray="4.2,2.6"/>
<line x1="239.6" y1="385.8" x2="300.4" y2="400.2" stroke="#FF1A1A" stroke-width="1.4" stroke-dasharray="4.2,2.6"/>
<g clip-path="url(#c4)">
<rect x="301" y="349" width="66" height="53" fill="#060406"/>
<path d="M313.9,348 C314.3,354 314.4,360.5 314.2,366.7 C313.8,370.6 313.2,374.4 312.5,378.2 C311.8,381.6 311.4,385 311.3,388.4 C311.3,393 311.7,397.5 312.5,402 L355,402 C355.4,400 355.7,397.8 355.8,395.6 C356.4,390.8 356.6,385.9 356.5,381 C356.5,376.2 356.3,371.4 355.8,366.7 C355,360.6 353.8,354.6 352.2,348Z" fill="url(#mag)"/>
<path d="M313.9,348 C314.3,354 314.4,360.5 314.2,366.7 C313.8,370.6 313.2,374.4 312.5,378.2 C311.8,381.6 311.4,385 311.3,388.4 C311.3,393 311.7,397.5 312.5,402 L355,402 C355.4,400 355.7,397.8 355.8,395.6 C356.4,390.8 356.6,385.9 356.5,381 C356.5,376.2 356.3,371.4 355.8,366.7 C355,360.6 353.8,354.6 352.2,348Z" fill="url(#sp)" mask="url(#spmask)"/>
</g>
<path d="M319.7,375.5 V394.9 H338" fill="none" stroke="#000" stroke-width="2"/>
<path d="M319.7,370.8 L322.9,377 L316.5,377Z" fill="#000"/><path d="M342.6,394.9 L336.6,391.7 L336.6,398.1Z" fill="#000"/>
<text x="315.80" y="368.00" font-size="10.4" font-weight="bold" fill="#000" text-anchor="start" >Y</text>
<text x="342.00" y="397.80" font-size="10.4" font-weight="bold" fill="#000" text-anchor="start" >X</text>
<text x="375.00" y="284.20" font-size="25" font-weight="bold" fill="#000" text-anchor="start" >g</text>
<rect x="403.3" y="289.5" width="139.20" height="109.20" fill="#fff" stroke="#222" stroke-width="1.0"/>
<path d="M403.60,398.60C403.92,396.98 404.85,392.94 405.50,388.89C406.15,384.85 406.83,378.98 407.50,374.33C408.17,369.68 408.88,364.22 409.50,360.99C410.12,357.75 410.68,355.33 411.20,354.92C411.72,354.52 412.13,355.73 412.60,358.56C413.07,361.39 413.50,367.26 414.00,371.91C414.50,376.56 415.07,383.03 415.60,386.47C416.13,389.90 416.63,391.93 417.20,392.53C417.77,393.14 418.33,391.12 419.00,390.11C419.67,389.10 420.53,386.77 421.20,386.47C421.87,386.16 422.43,387.07 423.00,388.29C423.57,389.50 424.10,392.13 424.60,393.75C425.10,395.36 425.57,397.79 426.00,397.99C426.43,398.20 426.77,397.08 427.20,394.96C427.63,392.84 428.08,389.50 428.60,385.25C429.12,381.01 429.73,374.33 430.30,369.48C430.87,364.63 431.45,359.67 432.00,356.13C432.55,352.60 433.10,349.26 433.60,348.25C434.10,347.24 434.50,347.74 435.00,350.07C435.50,352.39 436.03,357.35 436.60,362.20C437.17,367.05 437.83,374.54 438.40,379.19C438.97,383.84 439.47,387.68 440.00,390.11C440.53,392.53 441.07,393.54 441.60,393.75C442.13,393.95 442.63,392.33 443.20,391.32C443.77,390.31 444.43,388.49 445.00,387.68C445.57,386.87 446.07,386.37 446.60,386.47C447.13,386.57 447.70,387.38 448.20,388.29C448.70,389.20 449.13,391.02 449.60,391.93C450.07,392.84 450.53,393.85 451.00,393.75C451.47,393.65 451.90,393.34 452.40,391.32C452.90,389.30 453.43,385.66 454.00,381.61C454.57,377.57 455.20,371.50 455.80,367.05C456.40,362.61 457.05,357.75 457.60,354.92C458.15,352.09 458.60,350.27 459.10,350.07C459.60,349.87 460.12,351.08 460.60,353.71C461.08,356.34 461.55,360.99 462.00,365.84C462.45,370.69 462.88,378.78 463.30,382.83C463.72,386.87 464.05,388.79 464.50,390.11C464.95,391.42 465.48,390.92 466.00,390.71C466.52,390.51 467.07,388.89 467.60,388.89C468.13,388.89 468.70,389.90 469.20,390.71C469.70,391.52 470.13,393.08 470.60,393.75C471.07,394.41 471.52,394.92 472.00,394.72C472.48,394.52 473.00,394.11 473.50,392.53C474.00,390.96 474.45,388.89 475.00,385.25C475.55,381.61 476.20,375.35 476.80,370.69C477.40,366.04 478.03,360.89 478.60,357.35C479.17,353.81 479.72,350.98 480.20,349.46C480.68,347.94 481.03,347.74 481.50,348.25C481.97,348.75 482.50,349.56 483.00,352.49C483.50,355.43 484.00,361.19 484.50,365.84C485.00,370.49 485.50,376.76 486.00,380.40C486.50,384.04 487.00,386.37 487.50,387.68C488.00,388.99 488.45,388.39 489.00,388.29C489.55,388.19 490.25,387.17 490.80,387.07C491.35,386.97 491.77,387.17 492.30,387.68C492.83,388.19 493.45,389.40 494.00,390.11C494.55,390.81 495.10,391.93 495.60,391.93C496.10,391.93 496.52,392.03 497.00,390.11C497.48,388.19 498.00,384.24 498.50,380.40C499.00,376.56 499.48,371.10 500.00,367.05C500.52,363.01 501.10,358.56 501.60,356.13C502.10,353.71 502.53,352.70 503.00,352.49C503.47,352.29 503.93,352.70 504.40,354.92C504.87,357.15 505.33,361.59 505.80,365.84C506.27,370.09 506.73,376.66 507.20,380.40C507.67,384.14 508.10,386.77 508.60,388.29C509.10,389.80 509.63,389.20 510.20,389.50C510.77,389.80 511.43,389.90 512.00,390.11C512.57,390.31 513.07,390.41 513.60,390.71C514.13,391.02 514.70,391.62 515.20,391.93C515.70,392.23 516.13,392.84 516.60,392.53C517.07,392.23 517.50,392.13 518.00,390.11C518.50,388.08 519.07,384.44 519.60,380.40C520.13,376.36 520.67,369.89 521.20,365.84C521.73,361.80 522.27,358.36 522.80,356.13C523.33,353.91 523.90,352.70 524.40,352.49C524.90,352.29 525.33,352.90 525.80,354.92C526.27,356.94 526.73,360.38 527.20,364.63C527.67,368.87 528.13,376.15 528.60,380.40C529.07,384.65 529.53,388.33 530.00,390.11C530.47,391.89 530.93,391.04 531.40,391.08C531.87,391.12 532.33,390.11 532.80,390.35C533.27,390.59 533.73,391.66 534.20,392.53C534.67,393.40 535.13,394.66 535.60,395.57C536.07,396.48 536.77,397.59 537.00,397.99" stroke="#333" stroke-width="0.95" fill="none" />
<path d="M403.80,398.60C404.00,397.69 404.63,394.96 405.00,393.14C405.37,391.32 405.62,390.61 406.00,387.68C406.38,384.75 406.87,379.79 407.30,375.55C407.73,371.30 408.22,366.04 408.60,362.20C408.98,358.36 409.28,355.53 409.60,352.49C409.92,349.46 410.15,346.91 410.50,344.00C410.85,341.09 411.35,337.45 411.70,335.02C412.05,332.60 412.22,331.87 412.60,329.44C412.98,327.02 413.60,322.59 414.00,320.46C414.40,318.34 414.67,317.63 415.00,316.70C415.33,315.77 415.68,314.88 416.00,314.88C416.32,314.88 416.62,315.08 416.90,316.70C417.18,318.32 417.42,320.24 417.70,324.59C417.98,328.94 418.30,337.53 418.60,342.79C418.90,348.05 419.13,352.09 419.50,356.13C419.87,360.18 420.33,363.62 420.80,367.05C421.27,370.49 421.83,374.03 422.30,376.76C422.77,379.49 423.15,381.45 423.60,383.43C424.05,385.42 424.53,387.24 425.00,388.65C425.47,390.07 425.95,391.18 426.40,391.93C426.85,392.68 427.33,393.14 427.70,393.14C428.07,393.14 428.30,392.84 428.60,391.93C428.90,391.02 429.20,389.60 429.50,387.68C429.80,385.76 430.08,383.11 430.40,380.40C430.72,377.69 431.08,374.46 431.40,371.42C431.72,368.39 432.00,365.23 432.30,362.20C432.60,359.17 432.90,356.05 433.20,353.22C433.50,350.39 433.80,347.64 434.10,345.21C434.40,342.79 434.68,340.89 435.00,338.66C435.32,336.44 435.67,334.01 436.00,331.87C436.33,329.73 436.67,327.52 437.00,325.80C437.33,324.08 437.70,322.47 438.00,321.56C438.30,320.65 438.53,320.24 438.80,320.34C439.07,320.44 439.35,320.95 439.60,322.16C439.85,323.38 440.07,325.48 440.30,327.62C440.53,329.77 440.72,332.09 441.00,335.02C441.28,337.96 441.63,341.90 442.00,345.21C442.37,348.53 442.77,351.48 443.20,354.92C443.63,358.36 444.13,362.50 444.60,365.84C445.07,369.18 445.55,372.11 446.00,374.94C446.45,377.77 446.87,380.40 447.30,382.83C447.73,385.25 448.15,387.58 448.60,389.50C449.05,391.42 449.60,393.28 450.00,394.35C450.40,395.43 450.58,395.67 451.00,395.93C451.42,396.19 452.08,396.29 452.50,395.93C452.92,395.57 453.13,397.06 453.50,393.75C453.87,390.43 454.32,381.90 454.70,376.03C455.08,370.17 455.42,364.51 455.80,358.56C456.18,352.62 456.55,345.62 457.00,340.36C457.45,335.10 458.00,330.74 458.50,327.02C459.00,323.29 459.50,319.98 460.00,318.04C460.50,316.10 461.00,315.95 461.50,315.37C462.00,314.78 462.58,313.99 463.00,314.52C463.42,315.04 463.68,316.16 464.00,318.52C464.32,320.89 464.62,324.27 464.90,328.71C465.18,333.16 465.43,339.31 465.70,345.21C465.97,351.12 466.22,358.68 466.50,364.14C466.78,369.60 467.08,374.01 467.40,377.97C467.72,381.94 468.08,385.50 468.40,387.92C468.72,390.35 468.98,391.42 469.30,392.53C469.62,393.65 469.80,394.19 470.30,394.60C470.80,395.00 471.62,394.98 472.30,394.96C472.98,394.94 473.92,395.49 474.40,394.47C474.88,393.46 474.93,391.97 475.20,388.89C475.47,385.82 475.70,380.68 476.00,376.03C476.30,371.38 476.67,366.12 477.00,360.99C477.33,355.85 477.65,349.87 478.00,345.21C478.35,340.56 478.72,336.62 479.10,333.08C479.48,329.54 479.90,326.13 480.30,323.98C480.70,321.84 481.10,321.01 481.50,320.22C481.90,319.43 482.28,319.33 482.70,319.25C483.12,319.17 483.62,319.35 484.00,319.74C484.38,320.12 484.68,319.94 485.00,321.56C485.32,323.17 485.62,326.31 485.90,329.44C486.18,332.58 486.42,335.51 486.70,340.36C486.98,345.21 487.28,352.62 487.60,358.56C487.92,364.51 488.30,371.38 488.60,376.03C488.90,380.68 489.13,383.70 489.40,386.47C489.67,389.24 489.90,391.20 490.20,392.65C490.50,394.11 490.90,394.66 491.20,395.20C491.50,395.75 491.45,395.77 492.00,395.93C492.55,396.09 493.67,396.21 494.50,396.17C495.33,396.13 496.43,396.90 497.00,395.69C497.57,394.47 497.60,392.17 497.90,388.89C498.20,385.62 498.47,381.09 498.80,376.03C499.13,370.98 499.53,364.51 499.90,358.56C500.27,352.62 500.62,345.32 501.00,340.36C501.38,335.41 501.78,331.97 502.20,328.84C502.62,325.70 503.03,323.38 503.50,321.56C503.97,319.74 504.53,319.13 505.00,317.92C505.47,316.70 505.97,314.46 506.30,314.28C506.63,314.09 506.75,314.90 507.00,316.82C507.25,318.74 507.52,321.88 507.80,325.80C508.08,329.73 508.37,334.30 508.70,340.36C509.03,346.43 509.42,355.45 509.80,362.20C510.18,368.96 510.60,376.64 511.00,380.89C511.40,385.13 511.78,386.10 512.20,387.68C512.62,389.26 513.03,389.58 513.50,390.35C513.97,391.12 514.50,391.89 515.00,392.29C515.50,392.70 516.00,392.78 516.50,392.78C517.00,392.78 517.60,393.14 518.00,392.29C518.40,391.44 518.60,390.67 518.90,387.68C519.20,384.69 519.48,379.19 519.80,374.33C520.12,369.48 520.47,363.62 520.80,358.56C521.13,353.51 521.48,347.84 521.80,344.00C522.12,340.16 522.33,338.24 522.70,335.51C523.07,332.78 523.53,329.75 524.00,327.62C524.47,325.50 525.00,324.04 525.50,322.77C526.00,321.49 526.58,320.38 527.00,319.98C527.42,319.57 527.70,319.37 528.00,320.34C528.30,321.31 528.57,323.27 528.80,325.80C529.03,328.33 529.17,331.46 529.40,335.51C529.63,339.55 529.93,345.21 530.20,350.07C530.47,354.92 530.73,360.18 531.00,364.63C531.27,369.08 531.53,373.32 531.80,376.76C532.07,380.20 532.33,382.93 532.60,385.25C532.87,387.58 533.12,389.20 533.40,390.71C533.68,392.23 533.95,393.14 534.30,394.35C534.65,395.57 535.30,397.39 535.50,397.99" stroke="#FF0D0D" stroke-width="1.5" fill="none" stroke-linejoin="round"/>
<line x1="403.40" y1="398.70" x2="403.40" y2="396.50" stroke="#222" stroke-width="0.8" />
<text x="403.40" y="406.80" font-size="9" font-weight="normal" fill="#000" text-anchor="middle" >0</text>
<line x1="431.51" y1="398.70" x2="431.51" y2="396.50" stroke="#222" stroke-width="0.8" />
<text x="431.51" y="406.80" font-size="9" font-weight="normal" fill="#000" text-anchor="middle" >3</text>
<line x1="459.62" y1="398.70" x2="459.62" y2="396.50" stroke="#222" stroke-width="0.8" />
<text x="459.62" y="406.80" font-size="9" font-weight="normal" fill="#000" text-anchor="middle" >6</text>
<line x1="487.73" y1="398.70" x2="487.73" y2="396.50" stroke="#222" stroke-width="0.8" />
<text x="487.73" y="406.80" font-size="9" font-weight="normal" fill="#000" text-anchor="middle" >9</text>
<line x1="515.84" y1="398.70" x2="515.84" y2="396.50" stroke="#222" stroke-width="0.8" />
<text x="515.84" y="406.80" font-size="9" font-weight="normal" fill="#000" text-anchor="middle" >12</text>
<text x="543.95" y="406.80" font-size="9" font-weight="normal" fill="#000" text-anchor="middle" >15</text>
<line x1="417.45" y1="398.70" x2="417.45" y2="397.40" stroke="#222" stroke-width="0.7" />
<line x1="445.56" y1="398.70" x2="445.56" y2="397.40" stroke="#222" stroke-width="0.7" />
<line x1="473.67" y1="398.70" x2="473.67" y2="397.40" stroke="#222" stroke-width="0.7" />
<line x1="501.78" y1="398.70" x2="501.78" y2="397.40" stroke="#222" stroke-width="0.7" />
<line x1="529.89" y1="398.70" x2="529.89" y2="397.40" stroke="#222" stroke-width="0.7" />
<line x1="403.30" y1="398.60" x2="405.50" y2="398.60" stroke="#222" stroke-width="0.8" />
<text x="400.40" y="402.70" font-size="9" font-weight="normal" fill="#000" text-anchor="end" >0</text>
<line x1="403.30" y1="380.40" x2="405.50" y2="380.40" stroke="#222" stroke-width="0.8" />
<text x="400.40" y="384.50" font-size="9" font-weight="normal" fill="#000" text-anchor="end" >15</text>
<line x1="403.30" y1="362.20" x2="405.50" y2="362.20" stroke="#222" stroke-width="0.8" />
<text x="400.40" y="366.30" font-size="9" font-weight="normal" fill="#000" text-anchor="end" >30</text>
<line x1="403.30" y1="344.00" x2="405.50" y2="344.00" stroke="#222" stroke-width="0.8" />
<text x="400.40" y="348.10" font-size="9" font-weight="normal" fill="#000" text-anchor="end" >45</text>
<line x1="403.30" y1="325.80" x2="405.50" y2="325.80" stroke="#222" stroke-width="0.8" />
<text x="400.40" y="329.90" font-size="9" font-weight="normal" fill="#000" text-anchor="end" >60</text>
<line x1="403.30" y1="307.60" x2="405.50" y2="307.60" stroke="#222" stroke-width="0.8" />
<text x="400.40" y="311.70" font-size="9" font-weight="normal" fill="#000" text-anchor="end" >75</text>
<line x1="403.30" y1="289.40" x2="405.50" y2="289.40" stroke="#222" stroke-width="0.8" />
<text x="400.40" y="293.50" font-size="9" font-weight="normal" fill="#000" text-anchor="end" >90</text>
<line x1="403.30" y1="389.50" x2="404.62" y2="389.50" stroke="#222" stroke-width="0.7" />
<line x1="403.30" y1="371.30" x2="404.62" y2="371.30" stroke="#222" stroke-width="0.7" />
<line x1="403.30" y1="353.10" x2="404.62" y2="353.10" stroke="#222" stroke-width="0.7" />
<line x1="403.30" y1="334.90" x2="404.62" y2="334.90" stroke="#222" stroke-width="0.7" />
<line x1="403.30" y1="316.70" x2="404.62" y2="316.70" stroke="#222" stroke-width="0.7" />
<line x1="403.30" y1="298.50" x2="404.62" y2="298.50" stroke="#222" stroke-width="0.7" />
<text x="472.80" y="415.80" font-size="8.8" font-weight="normal" fill="#000" text-anchor="middle" >Time (s)</text>
<text x="389.4" y="341" font-size="9" text-anchor="middle" transform="rotate(-90 389.4 341)">(R-R<tspan font-size="5.9" dy="1.5">0</tspan><tspan dy="-1.5">)/R</tspan><tspan font-size="5.9" dy="1.5">0</tspan><tspan dy="-1.5"> (%)</tspan></text>
<line x1="456.40" y1="297.20" x2="474.50" y2="297.20" stroke="#444" stroke-width="1" />
<text x="477.60" y="299.60" font-size="8.9" font-weight="normal" fill="#000" text-anchor="start" >X−axis direction</text>
<line x1="456.40" y1="308.30" x2="474.50" y2="308.30" stroke="#FF0D0D" stroke-width="1.5" />
<text x="477.60" y="310.90" font-size="8.9" font-weight="normal" fill="#000" text-anchor="start" >Y−axis direction</text>
</svg>
</body></html>
